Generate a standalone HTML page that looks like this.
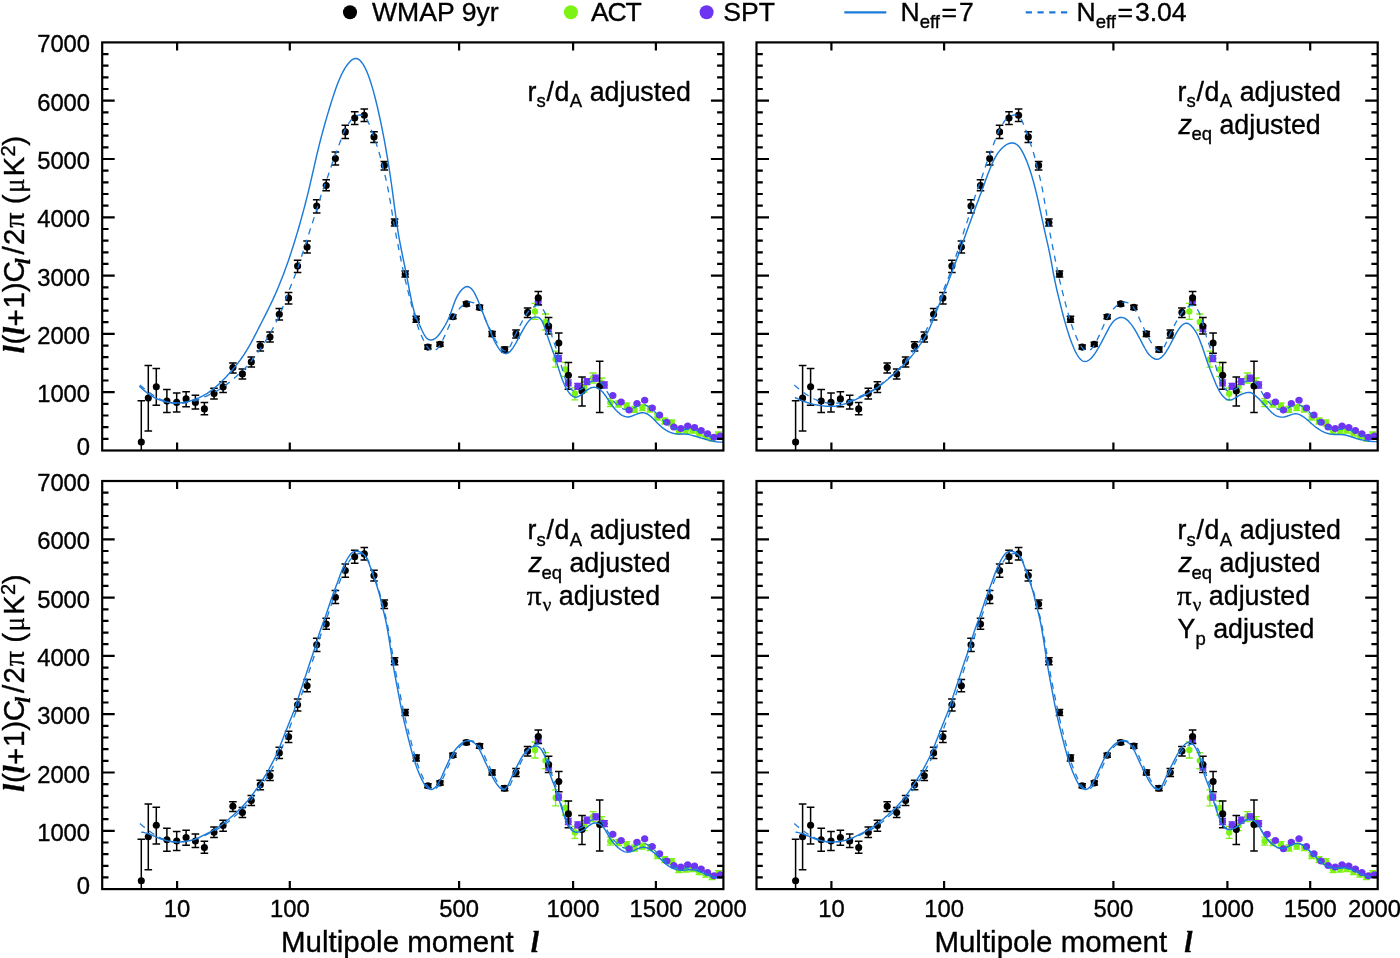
<!DOCTYPE html>
<html><head><meta charset="utf-8"><title>CMB power spectrum</title>
<style>html,body{margin:0;padding:0;background:#fff}svg{display:block}text{font-family:"Liberation Sans",sans-serif;fill:#000;stroke:#000;stroke-width:0.35px}.it{font-family:"Liberation Serif",serif;font-style:italic;font-weight:bold}.sym{font-family:"Liberation Serif",serif}.ob{font-style:italic}</style></head><body>
<svg width="1400" height="958" viewBox="0 0 1400 958">
<rect width="1400" height="958" fill="#fff"/>
<circle cx="350" cy="12.3" r="7" fill="#000"/>
<circle cx="570.9" cy="12.3" r="7" fill="#7df314"/>
<circle cx="706.6" cy="12.3" r="7" fill="#6d35f3"/>
<path d="M844.3,12.3H886.3" stroke="#1c7ad9" stroke-width="2.2"/>
<path d="M1025.7,12.3H1067.7" stroke="#1c7ad9" stroke-width="2.2" stroke-dasharray="6.25 5.5"/>
<g font-size="26.6">
<text x="372.0" y="21">WMAP 9yr</text>
<text x="591" y="21">A<tspan dx="-1.2">C</tspan><tspan dx="-1.3">T</tspan></text>
<text x="723.3" y="21">SPT</text>
<text x="900.5" y="21">N<tspan font-size="18.5" dy="6.8">eff</tspan><tspan dy="-6.8" dx="1.6">=</tspan><tspan dx="1.8">7</tspan></text>
<text x="1076.5" y="21">N<tspan font-size="18.5" dy="6.8">eff</tspan><tspan dy="-6.8" dx="1.6">=</tspan><tspan dx="1.8">3.04</tspan></text>
</g>
<g transform="translate(0.0,0.0)">
<g stroke="#7df314" stroke-width="1.3" fill="#7df314">
<path d="M535.0,303.4V319.4M531.5,303.4h7M531.5,319.4h7" fill="none"/>
<circle cx="535.0" cy="311.4" r="3.2" stroke="none"/>
<path d="M545.5,314.0V330.0M542.0,314.0h7M542.0,330.0h7" fill="none"/>
<circle cx="545.5" cy="322.0" r="3.2" stroke="none"/>
<path d="M555.6,351.2V367.2M552.1,351.2h7M552.1,367.2h7" fill="none"/>
<circle cx="555.6" cy="359.2" r="3.2" stroke="none"/>
<path d="M565.4,362.4V376.4M561.9,362.4h7M561.9,376.4h7" fill="none"/>
<circle cx="565.4" cy="369.4" r="3.2" stroke="none"/>
<path d="M574.9,387.8V399.8M571.4,387.8h7M571.4,399.8h7" fill="none"/>
<circle cx="574.9" cy="393.8" r="3.2" stroke="none"/>
<path d="M584.2,382.0V392.0M580.7,382.0h7M580.7,392.0h7" fill="none"/>
<circle cx="584.2" cy="387.0" r="3.2" stroke="none"/>
<path d="M593.1,373.0V383.0M589.6,373.0h7M589.6,383.0h7" fill="none"/>
<circle cx="593.1" cy="378.0" r="3.2" stroke="none"/>
<path d="M601.8,378.0V388.0M598.3,378.0h7M598.3,388.0h7" fill="none"/>
<circle cx="601.8" cy="383.0" r="3.2" stroke="none"/>
<path d="M610.3,398.6V406.6M606.8,398.6h7M606.8,406.6h7" fill="none"/>
<circle cx="610.3" cy="402.6" r="3.2" stroke="none"/>
<path d="M618.6,401.0V407.0M615.1,401.0h7M615.1,407.0h7" fill="none"/>
<circle cx="618.6" cy="404.0" r="3.2" stroke="none"/>
<path d="M626.7,403.0V409.0M623.2,403.0h7M623.2,409.0h7" fill="none"/>
<circle cx="626.7" cy="406.0" r="3.2" stroke="none"/>
<path d="M634.6,406.4V412.4M631.1,406.4h7M631.1,412.4h7" fill="none"/>
<circle cx="634.6" cy="409.4" r="3.2" stroke="none"/>
<path d="M642.4,404.6V410.6M638.9,404.6h7M638.9,410.6h7" fill="none"/>
<circle cx="642.4" cy="407.6" r="3.2" stroke="none"/>
<path d="M650.0,406.0V412.0M646.5,406.0h7M646.5,412.0h7" fill="none"/>
<circle cx="650.0" cy="409.0" r="3.2" stroke="none"/>
<path d="M657.4,414.0V420.0M653.9,414.0h7M653.9,420.0h7" fill="none"/>
<circle cx="657.4" cy="417.0" r="3.2" stroke="none"/>
<path d="M664.7,418.0V424.0M661.2,418.0h7M661.2,424.0h7" fill="none"/>
<circle cx="664.7" cy="421.0" r="3.2" stroke="none"/>
<path d="M671.8,420.0V426.0M668.3,420.0h7M668.3,426.0h7" fill="none"/>
<circle cx="671.8" cy="423.0" r="3.2" stroke="none"/>
<path d="M678.8,428.0V434.0M675.3,428.0h7M675.3,434.0h7" fill="none"/>
<circle cx="678.8" cy="431.0" r="3.2" stroke="none"/>
<path d="M685.7,427.4V433.4M682.2,427.4h7M682.2,433.4h7" fill="none"/>
<circle cx="685.7" cy="430.4" r="3.2" stroke="none"/>
<path d="M692.5,427.0V433.0M689.0,427.0h7M689.0,433.0h7" fill="none"/>
<circle cx="692.5" cy="430.0" r="3.2" stroke="none"/>
<path d="M699.1,430.0V436.0M695.6,430.0h7M695.6,436.0h7" fill="none"/>
<circle cx="699.1" cy="433.0" r="3.2" stroke="none"/>
<path d="M705.6,432.5V438.5M702.1,432.5h7M702.1,438.5h7" fill="none"/>
<circle cx="705.6" cy="435.5" r="3.2" stroke="none"/>
<path d="M712.1,435.0V441.0M708.6,435.0h7M708.6,441.0h7" fill="none"/>
<circle cx="712.1" cy="438.0" r="3.2" stroke="none"/>
<path d="M718.4,432.0V438.0M714.9,432.0h7M714.9,438.0h7" fill="none"/>
<circle cx="718.4" cy="435.0" r="3.2" stroke="none"/>
</g>
<g stroke="#6d35f3" stroke-width="1.3" fill="#6d35f3">
<path d="M538.2,298.4V304.4M534.7,298.4h7M534.7,304.4h7" fill="none"/>
<circle cx="538.2" cy="301.4" r="3.5" stroke="none"/>
<path d="M548.6,325.6V331.6M545.1,325.6h7M545.1,331.6h7" fill="none"/>
<circle cx="548.6" cy="328.6" r="3.5" stroke="none"/>
<path d="M558.6,355.5V361.5M555.1,355.5h7M555.1,361.5h7" fill="none"/>
<circle cx="558.6" cy="358.5" r="3.5" stroke="none"/>
<path d="M568.3,379.9V385.9M564.8,379.9h7M564.8,385.9h7" fill="none"/>
<circle cx="568.3" cy="382.9" r="3.5" stroke="none"/>
<path d="M577.7,383.3V389.3M574.2,383.3h7M574.2,389.3h7" fill="none"/>
<circle cx="577.7" cy="386.3" r="3.5" stroke="none"/>
<path d="M586.9,378.6V384.6M583.4,378.6h7M583.4,384.6h7" fill="none"/>
<circle cx="586.9" cy="381.6" r="3.5" stroke="none"/>
<path d="M595.8,375.2V381.2M592.3,375.2h7M592.3,381.2h7" fill="none"/>
<circle cx="595.8" cy="378.2" r="3.5" stroke="none"/>
<path d="M604.4,382.0V388.0M600.9,382.0h7M600.9,388.0h7" fill="none"/>
<circle cx="604.4" cy="385.0" r="3.5" stroke="none"/>
<path d="M612.8,394.6V396.6M609.3,394.6h7M609.3,396.6h7" fill="none"/>
<circle cx="612.8" cy="395.6" r="3.5" stroke="none"/>
<path d="M621.1,400.9V402.9M617.6,400.9h7M617.6,402.9h7" fill="none"/>
<circle cx="621.1" cy="401.9" r="3.5" stroke="none"/>
<path d="M629.1,409.1V411.1M625.6,409.1h7M625.6,411.1h7" fill="none"/>
<circle cx="629.1" cy="410.1" r="3.5" stroke="none"/>
<path d="M637.0,402.6V404.6M633.5,402.6h7M633.5,404.6h7" fill="none"/>
<circle cx="637.0" cy="403.6" r="3.5" stroke="none"/>
<path d="M644.7,399.2V401.2M641.2,399.2h7M641.2,401.2h7" fill="none"/>
<circle cx="644.7" cy="400.2" r="3.5" stroke="none"/>
<path d="M652.2,407.0V409.0M648.7,407.0h7M648.7,409.0h7" fill="none"/>
<circle cx="652.2" cy="408.0" r="3.5" stroke="none"/>
<path d="M659.6,414.1V416.1M656.1,414.1h7M656.1,416.1h7" fill="none"/>
<circle cx="659.6" cy="415.1" r="3.5" stroke="none"/>
<path d="M666.8,421.3V423.3M663.3,421.3h7M663.3,423.3h7" fill="none"/>
<circle cx="666.8" cy="422.3" r="3.5" stroke="none"/>
<path d="M673.9,426.0V428.0M670.4,426.0h7M670.4,428.0h7" fill="none"/>
<circle cx="673.9" cy="427.0" r="3.5" stroke="none"/>
<path d="M680.9,427.4V429.4M677.4,427.4h7M677.4,429.4h7" fill="none"/>
<circle cx="680.9" cy="428.4" r="3.5" stroke="none"/>
<path d="M687.7,425.1V427.1M684.2,425.1h7M684.2,427.1h7" fill="none"/>
<circle cx="687.7" cy="426.1" r="3.5" stroke="none"/>
<path d="M694.5,426.4V428.4M691.0,426.4h7M691.0,428.4h7" fill="none"/>
<circle cx="694.5" cy="427.4" r="3.5" stroke="none"/>
<path d="M701.1,429.4V431.4M697.6,429.4h7M697.6,431.4h7" fill="none"/>
<circle cx="701.1" cy="430.4" r="3.5" stroke="none"/>
<path d="M707.6,432.8V434.8M704.1,432.8h7M704.1,434.8h7" fill="none"/>
<circle cx="707.6" cy="433.8" r="3.5" stroke="none"/>
<path d="M714.0,436.2V438.2M710.5,436.2h7M710.5,438.2h7" fill="none"/>
<circle cx="714.0" cy="437.2" r="3.5" stroke="none"/>
<path d="M720.3,435.1V437.1M716.8,435.1h7M716.8,437.1h7" fill="none"/>
<circle cx="720.3" cy="436.1" r="3.5" stroke="none"/>
</g>
<g stroke="#000" stroke-width="1.5" fill="#000">
<path d="M141.3,400.7V450.5M137.5,400.7h7.6" fill="none"/>
<circle cx="141.3" cy="442.1" r="3.55" stroke="none"/>
<path d="M148.3,365.4V431.1M144.5,365.4h7.6M144.5,431.1h7.6" fill="none"/>
<circle cx="148.3" cy="398.1" r="3.55" stroke="none"/>
<path d="M156.3,368.6V405.3M152.5,368.6h7.6M152.5,405.3h7.6" fill="none"/>
<circle cx="156.3" cy="386.7" r="3.55" stroke="none"/>
<path d="M166.9,389.6V412.6M163.1,389.6h7.6M163.1,412.6h7.6" fill="none"/>
<circle cx="166.9" cy="401.1" r="3.55" stroke="none"/>
<path d="M176.7,392.9V411.9M172.9,392.9h7.6M172.9,411.9h7.6" fill="none"/>
<circle cx="176.7" cy="402.4" r="3.55" stroke="none"/>
<path d="M186.1,391.7V406.7M182.3,391.7h7.6M182.3,406.7h7.6" fill="none"/>
<circle cx="186.1" cy="398.9" r="3.55" stroke="none"/>
<path d="M195.4,395.3V409.0M191.6,395.3h7.6M191.6,409.0h7.6" fill="none"/>
<circle cx="195.4" cy="402.4" r="3.55" stroke="none"/>
<path d="M204.4,402.6V414.7M200.6,402.6h7.6M200.6,414.7h7.6" fill="none"/>
<circle cx="204.4" cy="408.9" r="3.55" stroke="none"/>
<path d="M214.0,388.3V398.9M210.2,388.3h7.6M210.2,398.9h7.6" fill="none"/>
<circle cx="214.0" cy="393.6" r="3.55" stroke="none"/>
<path d="M223.1,381.7V392.6M219.3,381.7h7.6M219.3,392.6h7.6" fill="none"/>
<circle cx="223.1" cy="386.9" r="3.55" stroke="none"/>
<path d="M232.9,363.1V372.9M229.1,363.1h7.6M229.1,372.9h7.6" fill="none"/>
<circle cx="232.9" cy="367.6" r="3.55" stroke="none"/>
<path d="M242.4,369.0V378.9M238.6,369.0h7.6M238.6,378.9h7.6" fill="none"/>
<circle cx="242.4" cy="373.9" r="3.55" stroke="none"/>
<path d="M251.3,356.9V366.9M247.5,356.9h7.6M247.5,366.9h7.6" fill="none"/>
<circle cx="251.3" cy="361.9" r="3.55" stroke="none"/>
<path d="M260.3,341.7V351.1M256.5,341.7h7.6M256.5,351.1h7.6" fill="none"/>
<circle cx="260.3" cy="346.1" r="3.55" stroke="none"/>
<path d="M270.0,332.1V341.9M266.2,332.1h7.6M266.2,341.9h7.6" fill="none"/>
<circle cx="270.0" cy="337.1" r="3.55" stroke="none"/>
<path d="M279.3,308.6V320.0M275.5,308.6h7.6M275.5,320.0h7.6" fill="none"/>
<circle cx="279.3" cy="314.3" r="3.55" stroke="none"/>
<path d="M288.6,292.6V304.0M284.8,292.6h7.6M284.8,304.0h7.6" fill="none"/>
<circle cx="288.6" cy="298.1" r="3.55" stroke="none"/>
<path d="M297.6,260.3V272.4M293.8,260.3h7.6M293.8,272.4h7.6" fill="none"/>
<circle cx="297.6" cy="266.1" r="3.55" stroke="none"/>
<path d="M307.1,241.0V253.1M303.3,241.0h7.6M303.3,253.1h7.6" fill="none"/>
<circle cx="307.1" cy="247.1" r="3.55" stroke="none"/>
<path d="M316.7,199.7V212.9M312.9,199.7h7.6M312.9,212.9h7.6" fill="none"/>
<circle cx="316.7" cy="206.1" r="3.55" stroke="none"/>
<path d="M326.2,179.7V190.7M322.4,179.7h7.6M322.4,190.7h7.6" fill="none"/>
<circle cx="326.2" cy="185.5" r="3.55" stroke="none"/>
<path d="M335.4,151.9V165.0M331.6,151.9h7.6M331.6,165.0h7.6" fill="none"/>
<circle cx="335.4" cy="158.6" r="3.55" stroke="none"/>
<path d="M345.3,125.3V138.6M341.5,125.3h7.6M341.5,138.6h7.6" fill="none"/>
<circle cx="345.3" cy="131.9" r="3.55" stroke="none"/>
<path d="M354.7,111.7V124.6M350.9,111.7h7.6M350.9,124.6h7.6" fill="none"/>
<circle cx="354.7" cy="118.1" r="3.55" stroke="none"/>
<path d="M364.3,109.0V121.4M360.5,109.0h7.6M360.5,121.4h7.6" fill="none"/>
<circle cx="364.3" cy="115.3" r="3.55" stroke="none"/>
<path d="M374.0,131.7V142.4M370.2,131.7h7.6M370.2,142.4h7.6" fill="none"/>
<circle cx="374.0" cy="136.9" r="3.55" stroke="none"/>
<path d="M384.3,161.4V170.0M380.5,161.4h7.6M380.5,170.0h7.6" fill="none"/>
<circle cx="384.3" cy="165.4" r="3.55" stroke="none"/>
<path d="M394.6,219.1V226.1M390.8,219.1h7.6M390.8,226.1h7.6" fill="none"/>
<circle cx="394.6" cy="222.6" r="3.55" stroke="none"/>
<path d="M405.2,271.0V277.0M401.4,271.0h7.6M401.4,277.0h7.6" fill="none"/>
<circle cx="405.2" cy="274.0" r="3.55" stroke="none"/>
<path d="M416.2,316.3V322.3M412.4,316.3h7.6M412.4,322.3h7.6" fill="none"/>
<circle cx="416.2" cy="319.3" r="3.55" stroke="none"/>
<path d="M427.9,345.1V349.1M424.1,345.1h7.6M424.1,349.1h7.6" fill="none"/>
<circle cx="427.9" cy="347.1" r="3.55" stroke="none"/>
<path d="M440.0,342.3V346.3M436.2,342.3h7.6M436.2,346.3h7.6" fill="none"/>
<circle cx="440.0" cy="344.3" r="3.55" stroke="none"/>
<path d="M452.9,314.7V318.7M449.1,314.7h7.6M449.1,318.7h7.6" fill="none"/>
<circle cx="452.9" cy="316.7" r="3.55" stroke="none"/>
<path d="M466.4,301.9V305.9M462.6,301.9h7.6M462.6,305.9h7.6" fill="none"/>
<circle cx="466.4" cy="303.9" r="3.55" stroke="none"/>
<path d="M479.6,305.2V309.6M475.8,305.2h7.6M475.8,309.6h7.6" fill="none"/>
<circle cx="479.6" cy="307.4" r="3.55" stroke="none"/>
<path d="M492.1,331.4V336.4M488.3,331.4h7.6M488.3,336.4h7.6" fill="none"/>
<circle cx="492.1" cy="333.9" r="3.55" stroke="none"/>
<path d="M504.7,347.1V352.1M500.9,347.1h7.6M500.9,352.1h7.6" fill="none"/>
<circle cx="504.7" cy="349.6" r="3.55" stroke="none"/>
<path d="M516.0,329.9V337.9M512.2,329.9h7.6M512.2,337.9h7.6" fill="none"/>
<circle cx="516.0" cy="333.9" r="3.55" stroke="none"/>
<path d="M527.6,307.9V317.4M523.8,307.9h7.6M523.8,317.4h7.6" fill="none"/>
<circle cx="527.6" cy="312.4" r="3.55" stroke="none"/>
<path d="M538.3,291.4V305.0M534.5,291.4h7.6M534.5,305.0h7.6" fill="none"/>
<circle cx="538.3" cy="297.9" r="3.55" stroke="none"/>
<path d="M548.6,317.6V334.0M544.8,317.6h7.6M544.8,334.0h7.6" fill="none"/>
<circle cx="548.6" cy="326.0" r="3.55" stroke="none"/>
<path d="M558.8,333.0V353.2M555.0,333.0h7.6M555.0,353.2h7.6" fill="none"/>
<circle cx="558.8" cy="343.0" r="3.55" stroke="none"/>
<path d="M568.4,362.4V389.2M564.6,362.4h7.6M564.6,389.2h7.6" fill="none"/>
<circle cx="568.4" cy="375.3" r="3.55" stroke="none"/>
<path d="M582.0,376.9V406.0M578.2,376.9h7.6M578.2,406.0h7.6" fill="none"/>
<circle cx="582.0" cy="391.0" r="3.55" stroke="none"/>
<path d="M599.7,361.3V412.5M595.9,361.3h7.6M595.9,412.5h7.6" fill="none"/>
<circle cx="599.7" cy="386.0" r="3.55" stroke="none"/>
</g>
<path d="M140.0,385.0 L141.0,385.9 L142.0,386.7 L143.0,387.6 L144.0,388.4 L145.0,389.2 L146.0,390.0 L147.0,390.8 L148.0,391.5 L149.0,392.3 L150.0,393.0 L151.0,393.7 L152.0,394.4 L153.0,395.0 L154.0,395.7 L155.0,396.3 L156.0,396.9 L157.0,397.4 L158.0,398.0 L159.0,398.5 L160.0,399.0 L161.0,399.5 L162.0,399.9 L163.0,400.3 L164.0,400.7 L165.0,401.1 L166.0,401.4 L167.0,401.7 L168.0,402.0 L169.0,402.3 L170.0,402.5 L171.0,402.7 L172.0,402.9 L173.0,403.0 L174.0,403.1 L175.0,403.2 L176.0,403.3 L177.0,403.3 L178.0,403.3 L179.0,403.3 L180.0,403.3 L181.0,403.3 L182.0,403.2 L183.0,403.1 L184.0,403.0 L185.0,402.9 L186.0,402.7 L187.0,402.6 L188.0,402.4 L189.0,402.2 L190.0,402.0 L191.0,401.8 L192.0,401.6 L193.0,401.3 L194.0,401.0 L195.0,400.8 L196.0,400.4 L197.0,400.1 L198.0,399.8 L199.0,399.4 L200.0,399.0 L201.0,398.6 L202.0,398.1 L203.0,397.7 L204.0,397.2 L205.0,396.7 L206.0,396.3 L207.0,395.8 L208.0,395.3 L209.0,394.9 L210.0,394.4 L211.0,394.0 L212.0,393.5 L213.0,393.0 L214.0,392.5 L215.0,392.0 L216.0,391.5 L217.0,390.9 L218.0,390.3 L219.0,389.7 L220.0,389.1 L221.0,388.4 L222.0,387.8 L223.0,387.1 L224.0,386.4 L225.0,385.6 L226.0,384.9 L227.0,384.1 L228.0,383.4 L229.0,382.6 L230.0,381.8 L231.0,381.0 L232.0,380.1 L233.0,379.3 L234.0,378.4 L235.0,377.5 L236.0,376.7 L237.0,375.8 L238.0,374.8 L239.0,373.9 L240.0,373.0 L241.0,372.1 L242.0,371.1 L243.0,370.1 L244.0,369.2 L245.0,368.2 L246.0,367.1 L247.0,366.1 L248.0,365.0 L249.0,363.8 L250.0,362.7 L251.0,361.5 L252.0,360.2 L253.0,359.0 L254.0,357.7 L255.0,356.4 L256.0,355.0 L257.0,353.6 L258.0,352.2 L259.0,350.8 L260.0,349.3 L261.0,347.8 L262.0,346.4 L263.0,344.8 L264.0,343.3 L265.0,341.8 L266.0,340.2 L267.0,338.6 L268.0,337.0 L269.0,335.3 L270.0,333.6 L271.0,331.8 L272.0,330.0 L273.0,328.1 L274.0,326.3 L275.0,324.4 L276.0,322.4 L277.0,320.5 L278.0,318.4 L279.0,316.3 L280.0,314.0 L281.0,311.6 L282.0,309.2 L283.0,306.6 L284.0,304.0 L285.0,301.3 L286.0,298.6 L287.0,296.0 L288.0,293.3 L289.0,290.7 L290.0,288.1 L291.0,285.5 L292.0,283.0 L293.0,280.5 L294.0,278.1 L295.0,275.6 L296.0,273.0 L297.0,270.3 L298.0,267.4 L299.0,264.4 L300.0,261.3 L301.0,258.1 L302.0,255.0 L303.0,251.9 L304.0,248.8 L305.0,245.8 L306.0,242.7 L307.0,239.6 L308.0,236.5 L309.0,233.3 L310.0,230.1 L311.0,227.0 L312.0,224.0 L313.0,221.1 L314.0,218.1 L315.0,215.1 L316.0,211.9 L317.0,208.7 L318.0,205.3 L319.0,202.0 L320.0,198.8 L321.0,195.6 L322.0,192.6 L323.0,189.7 L324.0,187.0 L325.0,184.3 L326.0,181.6 L327.0,178.9 L328.0,176.0 L329.0,173.0 L330.0,170.0 L331.0,167.0 L332.0,164.0 L333.0,161.1 L334.0,158.3 L335.0,155.6 L336.0,152.9 L337.0,150.3 L338.0,147.6 L339.0,145.0 L340.0,142.3 L341.0,139.7 L342.0,137.0 L343.0,134.5 L344.0,132.1 L345.0,129.9 L346.0,127.9 L347.0,126.2 L348.0,124.5 L349.0,122.9 L350.0,121.5 L351.0,120.2 L352.0,119.0 L353.0,118.0 L354.0,117.2 L355.0,116.5 L356.0,116.0 L357.0,115.6 L358.0,115.3 L359.0,115.1 L360.0,115.0 L361.0,115.0 L362.0,115.2 L363.0,115.6 L364.0,116.2 L365.0,117.0 L366.0,118.2 L367.0,119.6 L368.0,121.5 L369.0,123.7 L370.0,126.2 L371.0,128.9 L372.0,131.7 L373.0,134.4 L374.0,137.2 L375.0,140.1 L376.0,142.9 L377.0,145.9 L378.0,148.9 L379.0,152.2 L380.0,155.7 L381.0,159.5 L382.0,163.5 L383.0,167.5 L384.0,171.5 L385.0,175.4 L386.0,179.4 L387.0,183.8 L388.0,188.8 L389.0,194.2 L390.0,200.0 L391.0,206.0 L392.0,212.1 L393.0,218.1 L394.0,224.0 L395.0,229.6 L396.0,234.9 L397.0,240.0 L398.0,245.0 L399.0,250.0 L400.0,255.0 L401.0,260.0 L402.0,264.9 L403.0,269.7 L404.0,274.3 L405.0,278.8 L406.0,283.1 L407.0,287.2 L408.0,291.2 L409.0,295.1 L410.0,299.0 L411.0,302.8 L412.0,306.6 L413.0,310.4 L414.0,314.0 L415.0,317.5 L416.0,320.8 L417.0,324.0 L418.0,326.9 L419.0,329.7 L420.0,332.3 L421.0,334.7 L422.0,337.0 L423.0,339.2 L424.0,341.3 L425.0,343.2 L426.0,345.0 L427.0,346.5 L428.0,347.8 L429.0,348.9 L430.0,349.7 L431.0,350.3 L432.0,350.7 L433.0,350.8 L434.0,350.7 L435.0,350.4 L436.0,349.8 L437.0,349.0 L438.0,347.9 L439.0,346.6 L440.0,345.1 L441.0,343.4 L442.0,341.5 L443.0,339.5 L444.0,337.4 L445.0,335.2 L446.0,333.0 L447.0,330.7 L448.0,328.4 L449.0,326.2 L450.0,324.0 L451.0,321.9 L452.0,319.9 L453.0,318.0 L454.0,316.2 L455.0,314.5 L456.0,313.0 L457.0,311.6 L458.0,310.3 L459.0,309.1 L460.0,308.0 L461.0,307.0 L462.0,306.1 L463.0,305.2 L464.0,304.5 L465.0,303.8 L466.0,303.2 L467.0,302.8 L468.0,302.4 L469.0,302.2 L470.0,302.1 L471.0,302.1 L472.0,302.3 L473.0,302.6 L474.0,303.0 L475.0,303.5 L476.0,304.1 L477.0,304.9 L478.0,305.9 L479.0,307.1 L480.0,308.5 L481.0,310.2 L482.0,312.0 L483.0,314.1 L484.0,316.2 L485.0,318.4 L486.0,320.7 L487.0,322.8 L488.0,325.0 L489.0,327.1 L490.0,329.2 L491.0,331.3 L492.0,333.3 L493.0,335.3 L494.0,337.3 L495.0,339.2 L496.0,341.0 L497.0,342.7 L498.0,344.3 L499.0,345.8 L500.0,347.1 L501.0,348.3 L502.0,349.3 L503.0,350.1 L504.0,350.6 L505.0,350.9 L506.0,350.8 L507.0,350.4 L508.0,349.6 L509.0,348.3 L510.0,346.6 L511.0,344.6 L512.0,342.4 L513.0,340.1 L514.0,337.8 L515.0,335.6 L516.0,333.5 L517.0,331.5 L518.0,329.5 L519.0,327.5 L520.0,325.5 L521.0,323.6 L522.0,321.7 L523.0,319.8 L524.0,318.0 L525.0,316.3 L526.0,314.8 L527.0,313.3 L528.0,312.0 L529.0,310.8 L530.0,309.8 L531.0,308.8 L532.0,308.0 L533.0,307.3 L534.0,306.6 L535.0,306.1 L536.0,305.7 L537.0,305.5 L538.0,305.4 L539.0,305.6 L540.0,306.0 L541.0,306.8 L542.0,307.9 L543.0,309.3 L544.0,311.0 L545.0,312.9 L546.0,315.1 L547.0,317.8 L548.0,321.0 L549.0,324.8 L550.0,328.8 L551.0,332.8 L552.0,336.4 L553.0,339.6 L554.0,342.4 L555.0,345.2 L556.0,348.0 L557.0,351.0 L558.0,354.2 L559.0,357.5 L560.0,361.0 L561.0,364.6 L562.0,368.2 L563.0,371.7 L564.0,375.0 L565.0,378.0 L566.0,380.7 L567.0,383.1 L568.0,385.1 L569.0,386.8 L570.0,388.2 L571.0,389.3 L572.0,390.1 L573.0,390.6 L574.0,390.9 L575.0,391.0 L576.0,390.9 L577.0,390.7 L578.0,390.4 L579.0,390.0 L580.0,389.6 L581.0,389.1 L582.0,388.6 L583.0,388.0 L584.0,387.3 L585.0,386.5 L586.0,385.6 L587.0,384.8 L588.0,383.9 L589.0,383.1 L590.0,382.4 L591.0,381.7 L592.0,381.2 L593.0,380.9 L594.0,380.6 L595.0,380.6 L596.0,380.6 L597.0,380.9 L598.0,381.2 L599.0,381.7 L600.0,382.3 L601.0,383.0 L602.0,384.0 L603.0,385.2 L604.0,386.6 L605.0,388.1 L606.0,389.8 L607.0,391.5 L608.0,393.2 L609.0,394.9 L610.0,396.5 L611.0,397.9 L612.0,399.3 L613.0,400.6 L614.0,401.7 L615.0,402.8 L616.0,403.8 L617.0,404.7 L618.0,405.5 L619.0,406.3 L620.0,407.1 L621.0,407.7 L622.0,408.3 L623.0,408.8 L624.0,409.2 L625.0,409.5 L626.0,409.7 L627.0,409.8 L628.0,409.7 L629.0,409.5 L630.0,409.3 L631.0,409.0 L632.0,408.7 L633.0,408.3 L634.0,407.9 L635.0,407.4 L636.0,406.9 L637.0,406.4 L638.0,406.0 L639.0,405.6 L640.0,405.3 L641.0,405.1 L642.0,404.9 L643.0,404.9 L644.0,405.0 L645.0,405.1 L646.0,405.4 L647.0,405.8 L648.0,406.4 L649.0,407.0 L650.0,407.7 L651.0,408.5 L652.0,409.3 L653.0,410.2 L654.0,411.1 L655.0,412.0 L656.0,413.0 L657.0,414.0 L658.0,415.0 L659.0,416.0 L660.0,417.1 L661.0,418.1 L662.0,419.2 L663.0,420.2 L664.0,421.2 L665.0,422.2 L666.0,423.1 L667.0,423.9 L668.0,424.7 L669.0,425.4 L670.0,426.1 L671.0,426.7 L672.0,427.2 L673.0,427.7 L674.0,428.1 L675.0,428.4 L676.0,428.8 L677.0,429.0 L678.0,429.2 L679.0,429.4 L680.0,429.5 L681.0,429.6 L682.0,429.6 L683.0,429.6 L684.0,429.5 L685.0,429.5 L686.0,429.4 L687.0,429.3 L688.0,429.2 L689.0,429.2 L690.0,429.2 L691.0,429.3 L692.0,429.4 L693.0,429.6 L694.0,429.8 L695.0,430.1 L696.0,430.4 L697.0,430.7 L698.0,431.1 L699.0,431.6 L700.0,432.0 L701.0,432.5 L702.0,433.0 L703.0,433.5 L704.0,434.1 L705.0,434.6 L706.0,435.0 L707.0,435.5 L708.0,436.0 L709.0,436.4 L710.0,436.8 L711.0,437.1 L712.0,437.4 L713.0,437.7 L714.0,438.0 L715.0,438.2 L716.0,438.4 L717.0,438.6 L718.0,438.7 L719.0,438.8 L720.0,438.8 L721.0,438.8 L722.0,438.7 L723.0,438.6 L723.2,438.6" fill="none" stroke="#1c7ad9" stroke-width="1.3" stroke-dasharray="6.25 5.5"/>
<path d="M139.3,386.0 L140.3,387.0 L141.3,387.9 L142.3,388.9 L143.3,389.7 L144.3,390.6 L145.3,391.4 L146.3,392.2 L147.3,393.0 L148.3,393.7 L149.3,394.4 L150.3,395.1 L151.3,395.7 L152.3,396.4 L153.3,396.9 L154.3,397.5 L155.3,398.0 L156.3,398.5 L157.3,399.0 L158.3,399.4 L159.3,399.8 L160.3,400.2 L161.3,400.6 L162.3,400.9 L163.3,401.2 L164.3,401.5 L165.3,401.7 L166.3,401.9 L167.3,402.2 L168.3,402.3 L169.3,402.5 L170.3,402.6 L171.3,402.8 L172.3,402.9 L173.3,402.9 L174.3,403.0 L175.3,403.0 L176.3,403.0 L177.3,403.0 L178.3,403.0 L179.3,403.0 L180.3,402.9 L181.3,402.8 L182.3,402.6 L183.3,402.5 L184.3,402.3 L185.3,402.1 L186.3,401.9 L187.3,401.7 L188.3,401.5 L189.3,401.2 L190.3,400.9 L191.3,400.6 L192.3,400.3 L193.3,400.0 L194.3,399.7 L195.3,399.3 L196.3,398.9 L197.3,398.5 L198.3,398.1 L199.3,397.7 L200.3,397.2 L201.3,396.7 L202.3,396.2 L203.3,395.7 L204.3,395.1 L205.3,394.5 L206.3,393.9 L207.3,393.3 L208.3,392.6 L209.3,391.9 L210.3,391.2 L211.3,390.4 L212.3,389.7 L213.3,388.9 L214.3,388.1 L215.3,387.2 L216.3,386.4 L217.3,385.5 L218.3,384.6 L219.3,383.7 L220.3,382.7 L221.3,381.8 L222.3,380.8 L223.3,379.8 L224.3,378.8 L225.3,377.7 L226.3,376.7 L227.3,375.6 L228.3,374.5 L229.3,373.4 L230.3,372.3 L231.3,371.2 L232.3,370.0 L233.3,368.8 L234.3,367.6 L235.3,366.4 L236.3,365.1 L237.3,363.9 L238.3,362.6 L239.3,361.2 L240.3,359.9 L241.3,358.5 L242.3,357.0 L243.3,355.6 L244.3,354.1 L245.3,352.5 L246.3,350.9 L247.3,349.3 L248.3,347.6 L249.3,345.9 L250.3,344.1 L251.3,342.3 L252.3,340.4 L253.3,338.6 L254.3,336.6 L255.3,334.7 L256.3,332.8 L257.3,330.8 L258.3,328.8 L259.3,326.9 L260.3,324.9 L261.3,323.0 L262.3,321.0 L263.3,319.0 L264.3,317.1 L265.3,315.1 L266.3,313.1 L267.3,311.1 L268.3,309.1 L269.3,307.0 L270.3,305.0 L271.3,302.9 L272.3,300.8 L273.3,298.6 L274.3,296.4 L275.3,294.2 L276.3,291.9 L277.3,289.6 L278.3,287.2 L279.3,284.8 L280.3,282.3 L281.3,279.8 L282.3,277.3 L283.3,274.7 L284.3,272.0 L285.3,269.3 L286.3,266.6 L287.3,263.7 L288.3,260.9 L289.3,257.9 L290.3,255.0 L291.3,251.9 L292.3,248.8 L293.3,245.7 L294.3,242.5 L295.3,239.2 L296.3,235.9 L297.3,232.6 L298.3,229.2 L299.3,225.7 L300.3,222.2 L301.3,218.6 L302.3,215.0 L303.3,211.4 L304.3,207.6 L305.3,203.8 L306.3,199.9 L307.3,195.9 L308.3,191.8 L309.3,187.7 L310.3,183.4 L311.3,179.1 L312.3,174.7 L313.3,170.3 L314.3,165.9 L315.3,161.5 L316.3,157.2 L317.3,152.9 L318.3,148.8 L319.3,144.7 L320.3,140.8 L321.3,136.9 L322.3,133.1 L323.3,129.5 L324.3,125.9 L325.3,122.3 L326.3,118.9 L327.3,115.4 L328.3,112.1 L329.3,108.7 L330.3,105.5 L331.3,102.2 L332.3,99.1 L333.3,96.0 L334.3,93.0 L335.3,90.1 L336.3,87.3 L337.3,84.6 L338.3,82.0 L339.3,79.5 L340.3,77.2 L341.3,75.1 L342.3,73.0 L343.3,71.1 L344.3,69.3 L345.3,67.7 L346.3,66.2 L347.3,64.8 L348.3,63.5 L349.3,62.4 L350.3,61.3 L351.3,60.4 L352.3,59.7 L353.3,59.1 L354.3,58.7 L355.3,58.5 L356.3,58.5 L357.3,58.8 L358.3,59.2 L359.3,59.9 L360.3,60.8 L361.3,61.9 L362.3,63.2 L363.3,64.7 L364.3,66.4 L365.3,68.3 L366.3,70.4 L367.3,72.8 L368.3,75.3 L369.3,78.0 L370.3,81.0 L371.3,84.1 L372.3,87.4 L373.3,90.9 L374.3,94.6 L375.3,98.5 L376.3,102.5 L377.3,106.7 L378.3,111.0 L379.3,115.5 L380.3,120.1 L381.3,124.9 L382.3,129.8 L383.3,134.9 L384.3,140.2 L385.3,145.6 L386.3,151.3 L387.3,157.1 L388.3,163.1 L389.3,169.5 L390.3,176.1 L391.3,183.0 L392.3,190.2 L393.3,197.7 L394.3,205.4 L395.3,212.9 L396.3,220.2 L397.3,227.0 L398.3,233.3 L399.3,239.1 L400.3,244.5 L401.3,249.6 L402.3,254.5 L403.3,259.3 L404.3,264.1 L405.3,269.0 L406.3,274.1 L407.3,279.2 L408.3,284.5 L409.3,289.7 L410.3,294.7 L411.3,299.6 L412.3,304.1 L413.3,308.3 L414.3,312.0 L415.3,315.2 L416.3,317.9 L417.3,320.3 L418.3,322.5 L419.3,324.5 L420.3,326.6 L421.3,328.8 L422.3,331.0 L423.3,333.0 L424.3,334.9 L425.3,336.4 L426.3,337.7 L427.3,338.7 L428.3,339.3 L429.3,339.8 L430.3,340.0 L431.3,340.0 L432.3,339.8 L433.3,339.5 L434.3,339.0 L435.3,338.3 L436.3,337.5 L437.3,336.5 L438.3,335.4 L439.3,334.2 L440.3,332.8 L441.3,331.4 L442.3,329.9 L443.3,328.3 L444.3,326.7 L445.3,325.0 L446.3,323.2 L447.3,321.2 L448.3,319.1 L449.3,316.8 L450.3,314.2 L451.3,311.4 L452.3,308.4 L453.3,305.5 L454.3,302.8 L455.3,300.3 L456.3,298.1 L457.3,296.1 L458.3,294.4 L459.3,292.9 L460.3,291.5 L461.3,290.3 L462.3,289.2 L463.3,288.3 L464.3,287.6 L465.3,287.0 L466.3,286.7 L467.3,286.6 L468.3,286.8 L469.3,287.2 L470.3,287.8 L471.3,288.6 L472.3,289.8 L473.3,291.1 L474.3,292.7 L475.3,294.6 L476.3,296.7 L477.3,298.9 L478.3,301.3 L479.3,303.7 L480.3,306.3 L481.3,308.8 L482.3,311.3 L483.3,313.9 L484.3,316.4 L485.3,318.9 L486.3,321.4 L487.3,323.9 L488.3,326.4 L489.3,328.9 L490.3,331.4 L491.3,333.8 L492.3,336.2 L493.3,338.4 L494.3,340.6 L495.3,342.6 L496.3,344.4 L497.3,346.2 L498.3,347.7 L499.3,349.1 L500.3,350.4 L501.3,351.4 L502.3,352.3 L503.3,352.9 L504.3,353.4 L505.3,353.6 L506.3,353.6 L507.3,353.3 L508.3,352.8 L509.3,352.1 L510.3,351.2 L511.3,350.1 L512.3,348.8 L513.3,347.3 L514.3,345.7 L515.3,344.0 L516.3,342.3 L517.3,340.4 L518.3,338.6 L519.3,336.7 L520.3,334.8 L521.3,332.9 L522.3,331.1 L523.3,329.3 L524.3,327.6 L525.3,325.9 L526.3,324.4 L527.3,322.9 L528.3,321.6 L529.3,320.5 L530.3,319.5 L531.3,318.7 L532.3,318.0 L533.3,317.6 L534.3,317.3 L535.3,317.1 L536.3,317.1 L537.3,317.1 L538.3,317.4 L539.3,317.9 L540.3,318.8 L541.3,320.0 L542.3,321.7 L543.3,323.8 L544.3,326.5 L545.3,329.5 L546.3,332.6 L547.3,335.6 L548.3,338.5 L549.3,341.4 L550.3,344.2 L551.3,346.9 L552.3,349.7 L553.3,352.5 L554.3,355.3 L555.3,358.3 L556.3,361.4 L557.3,364.5 L558.3,367.6 L559.3,370.8 L560.3,373.8 L561.3,376.7 L562.3,379.5 L563.3,382.1 L564.3,384.5 L565.3,386.6 L566.3,388.5 L567.3,390.2 L568.3,391.7 L569.3,393.1 L570.3,394.2 L571.3,395.2 L572.3,396.0 L573.3,396.6 L574.3,397.0 L575.3,397.2 L576.3,397.2 L577.3,396.9 L578.3,396.6 L579.3,396.0 L580.3,395.4 L581.3,394.6 L582.3,393.9 L583.3,393.0 L584.3,392.2 L585.3,391.4 L586.3,390.6 L587.3,389.9 L588.3,389.3 L589.3,388.7 L590.3,388.2 L591.3,387.8 L592.3,387.5 L593.3,387.4 L594.3,387.3 L595.3,387.4 L596.3,387.6 L597.3,387.9 L598.3,388.4 L599.3,389.0 L600.3,389.8 L601.3,390.7 L602.3,391.7 L603.3,392.8 L604.3,394.1 L605.3,395.5 L606.3,396.9 L607.3,398.4 L608.3,399.9 L609.3,401.4 L610.3,402.9 L611.3,404.3 L612.3,405.7 L613.3,407.0 L614.3,408.2 L615.3,409.4 L616.3,410.5 L617.3,411.5 L618.3,412.4 L619.3,413.3 L620.3,414.1 L621.3,414.8 L622.3,415.4 L623.3,415.9 L624.3,416.3 L625.3,416.6 L626.3,416.8 L627.3,416.9 L628.3,416.9 L629.3,416.7 L630.3,416.5 L631.3,416.2 L632.3,415.9 L633.3,415.5 L634.3,415.1 L635.3,414.7 L636.3,414.3 L637.3,413.9 L638.3,413.5 L639.3,413.2 L640.3,413.0 L641.3,412.8 L642.3,412.7 L643.3,412.7 L644.3,412.9 L645.3,413.2 L646.3,413.5 L647.3,414.0 L648.3,414.6 L649.3,415.3 L650.3,416.1 L651.3,416.9 L652.3,417.8 L653.3,418.8 L654.3,419.8 L655.3,420.8 L656.3,421.9 L657.3,422.9 L658.3,423.9 L659.3,424.9 L660.3,425.8 L661.3,426.7 L662.3,427.6 L663.3,428.3 L664.3,429.1 L665.3,429.7 L666.3,430.4 L667.3,430.9 L668.3,431.5 L669.3,431.9 L670.3,432.4 L671.3,432.7 L672.3,433.1 L673.3,433.3 L674.3,433.6 L675.3,433.7 L676.3,433.9 L677.3,434.0 L678.3,434.0 L679.3,434.0 L680.3,434.0 L681.3,434.0 L682.3,434.0 L683.3,434.0 L684.3,434.1 L685.3,434.1 L686.3,434.2 L687.3,434.3 L688.3,434.4 L689.3,434.6 L690.3,434.9 L691.3,435.1 L692.3,435.4 L693.3,435.7 L694.3,436.0 L695.3,436.3 L696.3,436.6 L697.3,436.9 L698.3,437.2 L699.3,437.5 L700.3,437.8 L701.3,438.1 L702.3,438.3 L703.3,438.6 L704.3,438.9 L705.3,439.2 L706.3,439.5 L707.3,439.8 L708.3,440.1 L709.3,440.3 L710.3,440.6 L711.3,440.8 L712.3,441.1 L713.3,441.3 L714.3,441.5 L715.3,441.6 L716.3,441.8 L717.3,441.9 L718.3,442.0 L719.3,442.1 L720.3,442.1 L721.3,442.1 L722.3,442.1 L723.0,442.0" fill="none" stroke="#1c7ad9" stroke-width="1.45"/>
<rect x="102.2" y="42.4" width="621.2" height="408.1" fill="none" stroke="#000" stroke-width="2.2"/>
<path d="M102.2,438.8h6.3M723.4,438.8h-6.3M102.2,427.2h6.3M723.4,427.2h-6.3M102.2,415.5h6.3M723.4,415.5h-6.3M102.2,403.9h6.3M723.4,403.9h-6.3M102.2,392.2h12.5M723.4,392.2h-12.5M102.2,380.5h6.3M723.4,380.5h-6.3M102.2,368.9h6.3M723.4,368.9h-6.3M102.2,357.2h6.3M723.4,357.2h-6.3M102.2,345.6h6.3M723.4,345.6h-6.3M102.2,333.9h12.5M723.4,333.9h-12.5M102.2,322.2h6.3M723.4,322.2h-6.3M102.2,310.6h6.3M723.4,310.6h-6.3M102.2,298.9h6.3M723.4,298.9h-6.3M102.2,287.3h6.3M723.4,287.3h-6.3M102.2,275.6h12.5M723.4,275.6h-12.5M102.2,263.9h6.3M723.4,263.9h-6.3M102.2,252.3h6.3M723.4,252.3h-6.3M102.2,240.6h6.3M723.4,240.6h-6.3M102.2,229.0h6.3M723.4,229.0h-6.3M102.2,217.3h12.5M723.4,217.3h-12.5M102.2,205.6h6.3M723.4,205.6h-6.3M102.2,194.0h6.3M723.4,194.0h-6.3M102.2,182.3h6.3M723.4,182.3h-6.3M102.2,170.7h6.3M723.4,170.7h-6.3M102.2,159.0h12.5M723.4,159.0h-12.5M102.2,147.3h6.3M723.4,147.3h-6.3M102.2,135.7h6.3M723.4,135.7h-6.3M102.2,124.0h6.3M723.4,124.0h-6.3M102.2,112.4h6.3M723.4,112.4h-6.3M102.2,100.7h12.5M723.4,100.7h-12.5M102.2,89.0h6.3M723.4,89.0h-6.3M102.2,77.4h6.3M723.4,77.4h-6.3M102.2,65.7h6.3M723.4,65.7h-6.3M102.2,54.1h6.3M723.4,54.1h-6.3M177.1,42.4v8M177.1,450.5v-8M289.8,42.4v8M289.8,450.5v-8M459.1,42.4v8M459.1,450.5v-8M573.1,42.4v8M573.1,450.5v-8M655.9,42.4v8M655.9,450.5v-8" fill="none" stroke="#000" stroke-width="2.2"/>
</g>
<g transform="translate(654.3,0.0)">
<g stroke="#7df314" stroke-width="1.3" fill="#7df314">
<path d="M535.0,303.4V319.4M531.5,303.4h7M531.5,319.4h7" fill="none"/>
<circle cx="535.0" cy="311.4" r="3.2" stroke="none"/>
<path d="M545.5,314.0V330.0M542.0,314.0h7M542.0,330.0h7" fill="none"/>
<circle cx="545.5" cy="322.0" r="3.2" stroke="none"/>
<path d="M555.6,351.2V367.2M552.1,351.2h7M552.1,367.2h7" fill="none"/>
<circle cx="555.6" cy="359.2" r="3.2" stroke="none"/>
<path d="M565.4,362.4V376.4M561.9,362.4h7M561.9,376.4h7" fill="none"/>
<circle cx="565.4" cy="369.4" r="3.2" stroke="none"/>
<path d="M574.9,387.8V399.8M571.4,387.8h7M571.4,399.8h7" fill="none"/>
<circle cx="574.9" cy="393.8" r="3.2" stroke="none"/>
<path d="M584.2,382.0V392.0M580.7,382.0h7M580.7,392.0h7" fill="none"/>
<circle cx="584.2" cy="387.0" r="3.2" stroke="none"/>
<path d="M593.1,373.0V383.0M589.6,373.0h7M589.6,383.0h7" fill="none"/>
<circle cx="593.1" cy="378.0" r="3.2" stroke="none"/>
<path d="M601.8,378.0V388.0M598.3,378.0h7M598.3,388.0h7" fill="none"/>
<circle cx="601.8" cy="383.0" r="3.2" stroke="none"/>
<path d="M610.3,398.6V406.6M606.8,398.6h7M606.8,406.6h7" fill="none"/>
<circle cx="610.3" cy="402.6" r="3.2" stroke="none"/>
<path d="M618.6,401.0V407.0M615.1,401.0h7M615.1,407.0h7" fill="none"/>
<circle cx="618.6" cy="404.0" r="3.2" stroke="none"/>
<path d="M626.7,403.0V409.0M623.2,403.0h7M623.2,409.0h7" fill="none"/>
<circle cx="626.7" cy="406.0" r="3.2" stroke="none"/>
<path d="M634.6,406.4V412.4M631.1,406.4h7M631.1,412.4h7" fill="none"/>
<circle cx="634.6" cy="409.4" r="3.2" stroke="none"/>
<path d="M642.4,404.6V410.6M638.9,404.6h7M638.9,410.6h7" fill="none"/>
<circle cx="642.4" cy="407.6" r="3.2" stroke="none"/>
<path d="M650.0,406.0V412.0M646.5,406.0h7M646.5,412.0h7" fill="none"/>
<circle cx="650.0" cy="409.0" r="3.2" stroke="none"/>
<path d="M657.4,414.0V420.0M653.9,414.0h7M653.9,420.0h7" fill="none"/>
<circle cx="657.4" cy="417.0" r="3.2" stroke="none"/>
<path d="M664.7,418.0V424.0M661.2,418.0h7M661.2,424.0h7" fill="none"/>
<circle cx="664.7" cy="421.0" r="3.2" stroke="none"/>
<path d="M671.8,420.0V426.0M668.3,420.0h7M668.3,426.0h7" fill="none"/>
<circle cx="671.8" cy="423.0" r="3.2" stroke="none"/>
<path d="M678.8,428.0V434.0M675.3,428.0h7M675.3,434.0h7" fill="none"/>
<circle cx="678.8" cy="431.0" r="3.2" stroke="none"/>
<path d="M685.7,427.4V433.4M682.2,427.4h7M682.2,433.4h7" fill="none"/>
<circle cx="685.7" cy="430.4" r="3.2" stroke="none"/>
<path d="M692.5,427.0V433.0M689.0,427.0h7M689.0,433.0h7" fill="none"/>
<circle cx="692.5" cy="430.0" r="3.2" stroke="none"/>
<path d="M699.1,430.0V436.0M695.6,430.0h7M695.6,436.0h7" fill="none"/>
<circle cx="699.1" cy="433.0" r="3.2" stroke="none"/>
<path d="M705.6,432.5V438.5M702.1,432.5h7M702.1,438.5h7" fill="none"/>
<circle cx="705.6" cy="435.5" r="3.2" stroke="none"/>
<path d="M712.1,435.0V441.0M708.6,435.0h7M708.6,441.0h7" fill="none"/>
<circle cx="712.1" cy="438.0" r="3.2" stroke="none"/>
<path d="M718.4,432.0V438.0M714.9,432.0h7M714.9,438.0h7" fill="none"/>
<circle cx="718.4" cy="435.0" r="3.2" stroke="none"/>
</g>
<g stroke="#6d35f3" stroke-width="1.3" fill="#6d35f3">
<path d="M538.2,298.4V304.4M534.7,298.4h7M534.7,304.4h7" fill="none"/>
<circle cx="538.2" cy="301.4" r="3.5" stroke="none"/>
<path d="M548.6,325.6V331.6M545.1,325.6h7M545.1,331.6h7" fill="none"/>
<circle cx="548.6" cy="328.6" r="3.5" stroke="none"/>
<path d="M558.6,355.5V361.5M555.1,355.5h7M555.1,361.5h7" fill="none"/>
<circle cx="558.6" cy="358.5" r="3.5" stroke="none"/>
<path d="M568.3,379.9V385.9M564.8,379.9h7M564.8,385.9h7" fill="none"/>
<circle cx="568.3" cy="382.9" r="3.5" stroke="none"/>
<path d="M577.7,383.3V389.3M574.2,383.3h7M574.2,389.3h7" fill="none"/>
<circle cx="577.7" cy="386.3" r="3.5" stroke="none"/>
<path d="M586.9,378.6V384.6M583.4,378.6h7M583.4,384.6h7" fill="none"/>
<circle cx="586.9" cy="381.6" r="3.5" stroke="none"/>
<path d="M595.8,375.2V381.2M592.3,375.2h7M592.3,381.2h7" fill="none"/>
<circle cx="595.8" cy="378.2" r="3.5" stroke="none"/>
<path d="M604.4,382.0V388.0M600.9,382.0h7M600.9,388.0h7" fill="none"/>
<circle cx="604.4" cy="385.0" r="3.5" stroke="none"/>
<path d="M612.8,394.6V396.6M609.3,394.6h7M609.3,396.6h7" fill="none"/>
<circle cx="612.8" cy="395.6" r="3.5" stroke="none"/>
<path d="M621.1,400.9V402.9M617.6,400.9h7M617.6,402.9h7" fill="none"/>
<circle cx="621.1" cy="401.9" r="3.5" stroke="none"/>
<path d="M629.1,409.1V411.1M625.6,409.1h7M625.6,411.1h7" fill="none"/>
<circle cx="629.1" cy="410.1" r="3.5" stroke="none"/>
<path d="M637.0,402.6V404.6M633.5,402.6h7M633.5,404.6h7" fill="none"/>
<circle cx="637.0" cy="403.6" r="3.5" stroke="none"/>
<path d="M644.7,399.2V401.2M641.2,399.2h7M641.2,401.2h7" fill="none"/>
<circle cx="644.7" cy="400.2" r="3.5" stroke="none"/>
<path d="M652.2,407.0V409.0M648.7,407.0h7M648.7,409.0h7" fill="none"/>
<circle cx="652.2" cy="408.0" r="3.5" stroke="none"/>
<path d="M659.6,414.1V416.1M656.1,414.1h7M656.1,416.1h7" fill="none"/>
<circle cx="659.6" cy="415.1" r="3.5" stroke="none"/>
<path d="M666.8,421.3V423.3M663.3,421.3h7M663.3,423.3h7" fill="none"/>
<circle cx="666.8" cy="422.3" r="3.5" stroke="none"/>
<path d="M673.9,426.0V428.0M670.4,426.0h7M670.4,428.0h7" fill="none"/>
<circle cx="673.9" cy="427.0" r="3.5" stroke="none"/>
<path d="M680.9,427.4V429.4M677.4,427.4h7M677.4,429.4h7" fill="none"/>
<circle cx="680.9" cy="428.4" r="3.5" stroke="none"/>
<path d="M687.7,425.1V427.1M684.2,425.1h7M684.2,427.1h7" fill="none"/>
<circle cx="687.7" cy="426.1" r="3.5" stroke="none"/>
<path d="M694.5,426.4V428.4M691.0,426.4h7M691.0,428.4h7" fill="none"/>
<circle cx="694.5" cy="427.4" r="3.5" stroke="none"/>
<path d="M701.1,429.4V431.4M697.6,429.4h7M697.6,431.4h7" fill="none"/>
<circle cx="701.1" cy="430.4" r="3.5" stroke="none"/>
<path d="M707.6,432.8V434.8M704.1,432.8h7M704.1,434.8h7" fill="none"/>
<circle cx="707.6" cy="433.8" r="3.5" stroke="none"/>
<path d="M714.0,436.2V438.2M710.5,436.2h7M710.5,438.2h7" fill="none"/>
<circle cx="714.0" cy="437.2" r="3.5" stroke="none"/>
<path d="M720.3,435.1V437.1M716.8,435.1h7M716.8,437.1h7" fill="none"/>
<circle cx="720.3" cy="436.1" r="3.5" stroke="none"/>
</g>
<g stroke="#000" stroke-width="1.5" fill="#000">
<path d="M141.3,400.7V450.5M137.5,400.7h7.6" fill="none"/>
<circle cx="141.3" cy="442.1" r="3.55" stroke="none"/>
<path d="M148.3,365.4V431.1M144.5,365.4h7.6M144.5,431.1h7.6" fill="none"/>
<circle cx="148.3" cy="398.1" r="3.55" stroke="none"/>
<path d="M156.3,368.6V405.3M152.5,368.6h7.6M152.5,405.3h7.6" fill="none"/>
<circle cx="156.3" cy="386.7" r="3.55" stroke="none"/>
<path d="M166.9,389.6V412.6M163.1,389.6h7.6M163.1,412.6h7.6" fill="none"/>
<circle cx="166.9" cy="401.1" r="3.55" stroke="none"/>
<path d="M176.7,392.9V411.9M172.9,392.9h7.6M172.9,411.9h7.6" fill="none"/>
<circle cx="176.7" cy="402.4" r="3.55" stroke="none"/>
<path d="M186.1,391.7V406.7M182.3,391.7h7.6M182.3,406.7h7.6" fill="none"/>
<circle cx="186.1" cy="398.9" r="3.55" stroke="none"/>
<path d="M195.4,395.3V409.0M191.6,395.3h7.6M191.6,409.0h7.6" fill="none"/>
<circle cx="195.4" cy="402.4" r="3.55" stroke="none"/>
<path d="M204.4,402.6V414.7M200.6,402.6h7.6M200.6,414.7h7.6" fill="none"/>
<circle cx="204.4" cy="408.9" r="3.55" stroke="none"/>
<path d="M214.0,388.3V398.9M210.2,388.3h7.6M210.2,398.9h7.6" fill="none"/>
<circle cx="214.0" cy="393.6" r="3.55" stroke="none"/>
<path d="M223.1,381.7V392.6M219.3,381.7h7.6M219.3,392.6h7.6" fill="none"/>
<circle cx="223.1" cy="386.9" r="3.55" stroke="none"/>
<path d="M232.9,363.1V372.9M229.1,363.1h7.6M229.1,372.9h7.6" fill="none"/>
<circle cx="232.9" cy="367.6" r="3.55" stroke="none"/>
<path d="M242.4,369.0V378.9M238.6,369.0h7.6M238.6,378.9h7.6" fill="none"/>
<circle cx="242.4" cy="373.9" r="3.55" stroke="none"/>
<path d="M251.3,356.9V366.9M247.5,356.9h7.6M247.5,366.9h7.6" fill="none"/>
<circle cx="251.3" cy="361.9" r="3.55" stroke="none"/>
<path d="M260.3,341.7V351.1M256.5,341.7h7.6M256.5,351.1h7.6" fill="none"/>
<circle cx="260.3" cy="346.1" r="3.55" stroke="none"/>
<path d="M270.0,332.1V341.9M266.2,332.1h7.6M266.2,341.9h7.6" fill="none"/>
<circle cx="270.0" cy="337.1" r="3.55" stroke="none"/>
<path d="M279.3,308.6V320.0M275.5,308.6h7.6M275.5,320.0h7.6" fill="none"/>
<circle cx="279.3" cy="314.3" r="3.55" stroke="none"/>
<path d="M288.6,292.6V304.0M284.8,292.6h7.6M284.8,304.0h7.6" fill="none"/>
<circle cx="288.6" cy="298.1" r="3.55" stroke="none"/>
<path d="M297.6,260.3V272.4M293.8,260.3h7.6M293.8,272.4h7.6" fill="none"/>
<circle cx="297.6" cy="266.1" r="3.55" stroke="none"/>
<path d="M307.1,241.0V253.1M303.3,241.0h7.6M303.3,253.1h7.6" fill="none"/>
<circle cx="307.1" cy="247.1" r="3.55" stroke="none"/>
<path d="M316.7,199.7V212.9M312.9,199.7h7.6M312.9,212.9h7.6" fill="none"/>
<circle cx="316.7" cy="206.1" r="3.55" stroke="none"/>
<path d="M326.2,179.7V190.7M322.4,179.7h7.6M322.4,190.7h7.6" fill="none"/>
<circle cx="326.2" cy="185.5" r="3.55" stroke="none"/>
<path d="M335.4,151.9V165.0M331.6,151.9h7.6M331.6,165.0h7.6" fill="none"/>
<circle cx="335.4" cy="158.6" r="3.55" stroke="none"/>
<path d="M345.3,125.3V138.6M341.5,125.3h7.6M341.5,138.6h7.6" fill="none"/>
<circle cx="345.3" cy="131.9" r="3.55" stroke="none"/>
<path d="M354.7,111.7V124.6M350.9,111.7h7.6M350.9,124.6h7.6" fill="none"/>
<circle cx="354.7" cy="118.1" r="3.55" stroke="none"/>
<path d="M364.3,109.0V121.4M360.5,109.0h7.6M360.5,121.4h7.6" fill="none"/>
<circle cx="364.3" cy="115.3" r="3.55" stroke="none"/>
<path d="M374.0,131.7V142.4M370.2,131.7h7.6M370.2,142.4h7.6" fill="none"/>
<circle cx="374.0" cy="136.9" r="3.55" stroke="none"/>
<path d="M384.3,161.4V170.0M380.5,161.4h7.6M380.5,170.0h7.6" fill="none"/>
<circle cx="384.3" cy="165.4" r="3.55" stroke="none"/>
<path d="M394.6,219.1V226.1M390.8,219.1h7.6M390.8,226.1h7.6" fill="none"/>
<circle cx="394.6" cy="222.6" r="3.55" stroke="none"/>
<path d="M405.2,271.0V277.0M401.4,271.0h7.6M401.4,277.0h7.6" fill="none"/>
<circle cx="405.2" cy="274.0" r="3.55" stroke="none"/>
<path d="M416.2,316.3V322.3M412.4,316.3h7.6M412.4,322.3h7.6" fill="none"/>
<circle cx="416.2" cy="319.3" r="3.55" stroke="none"/>
<path d="M427.9,345.1V349.1M424.1,345.1h7.6M424.1,349.1h7.6" fill="none"/>
<circle cx="427.9" cy="347.1" r="3.55" stroke="none"/>
<path d="M440.0,342.3V346.3M436.2,342.3h7.6M436.2,346.3h7.6" fill="none"/>
<circle cx="440.0" cy="344.3" r="3.55" stroke="none"/>
<path d="M452.9,314.7V318.7M449.1,314.7h7.6M449.1,318.7h7.6" fill="none"/>
<circle cx="452.9" cy="316.7" r="3.55" stroke="none"/>
<path d="M466.4,301.9V305.9M462.6,301.9h7.6M462.6,305.9h7.6" fill="none"/>
<circle cx="466.4" cy="303.9" r="3.55" stroke="none"/>
<path d="M479.6,305.2V309.6M475.8,305.2h7.6M475.8,309.6h7.6" fill="none"/>
<circle cx="479.6" cy="307.4" r="3.55" stroke="none"/>
<path d="M492.1,331.4V336.4M488.3,331.4h7.6M488.3,336.4h7.6" fill="none"/>
<circle cx="492.1" cy="333.9" r="3.55" stroke="none"/>
<path d="M504.7,347.1V352.1M500.9,347.1h7.6M500.9,352.1h7.6" fill="none"/>
<circle cx="504.7" cy="349.6" r="3.55" stroke="none"/>
<path d="M516.0,329.9V337.9M512.2,329.9h7.6M512.2,337.9h7.6" fill="none"/>
<circle cx="516.0" cy="333.9" r="3.55" stroke="none"/>
<path d="M527.6,307.9V317.4M523.8,307.9h7.6M523.8,317.4h7.6" fill="none"/>
<circle cx="527.6" cy="312.4" r="3.55" stroke="none"/>
<path d="M538.3,291.4V305.0M534.5,291.4h7.6M534.5,305.0h7.6" fill="none"/>
<circle cx="538.3" cy="297.9" r="3.55" stroke="none"/>
<path d="M548.6,317.6V334.0M544.8,317.6h7.6M544.8,334.0h7.6" fill="none"/>
<circle cx="548.6" cy="326.0" r="3.55" stroke="none"/>
<path d="M558.8,333.0V353.2M555.0,333.0h7.6M555.0,353.2h7.6" fill="none"/>
<circle cx="558.8" cy="343.0" r="3.55" stroke="none"/>
<path d="M568.4,362.4V389.2M564.6,362.4h7.6M564.6,389.2h7.6" fill="none"/>
<circle cx="568.4" cy="375.3" r="3.55" stroke="none"/>
<path d="M582.0,376.9V406.0M578.2,376.9h7.6M578.2,406.0h7.6" fill="none"/>
<circle cx="582.0" cy="391.0" r="3.55" stroke="none"/>
<path d="M599.7,361.3V412.5M595.9,361.3h7.6M595.9,412.5h7.6" fill="none"/>
<circle cx="599.7" cy="386.0" r="3.55" stroke="none"/>
</g>
<path d="M140.0,385.0 L141.0,385.9 L142.0,386.7 L143.0,387.6 L144.0,388.4 L145.0,389.2 L146.0,390.0 L147.0,390.8 L148.0,391.5 L149.0,392.3 L150.0,393.0 L151.0,393.7 L152.0,394.4 L153.0,395.0 L154.0,395.7 L155.0,396.3 L156.0,396.9 L157.0,397.4 L158.0,398.0 L159.0,398.5 L160.0,399.0 L161.0,399.5 L162.0,399.9 L163.0,400.3 L164.0,400.7 L165.0,401.1 L166.0,401.4 L167.0,401.7 L168.0,402.0 L169.0,402.3 L170.0,402.5 L171.0,402.7 L172.0,402.9 L173.0,403.0 L174.0,403.1 L175.0,403.2 L176.0,403.3 L177.0,403.3 L178.0,403.3 L179.0,403.3 L180.0,403.3 L181.0,403.3 L182.0,403.2 L183.0,403.1 L184.0,403.0 L185.0,402.9 L186.0,402.7 L187.0,402.6 L188.0,402.4 L189.0,402.2 L190.0,402.0 L191.0,401.8 L192.0,401.6 L193.0,401.3 L194.0,401.0 L195.0,400.8 L196.0,400.4 L197.0,400.1 L198.0,399.8 L199.0,399.4 L200.0,399.0 L201.0,398.6 L202.0,398.1 L203.0,397.7 L204.0,397.2 L205.0,396.7 L206.0,396.3 L207.0,395.8 L208.0,395.3 L209.0,394.9 L210.0,394.4 L211.0,394.0 L212.0,393.5 L213.0,393.0 L214.0,392.5 L215.0,392.0 L216.0,391.5 L217.0,390.9 L218.0,390.3 L219.0,389.7 L220.0,389.1 L221.0,388.4 L222.0,387.8 L223.0,387.1 L224.0,386.4 L225.0,385.6 L226.0,384.9 L227.0,384.1 L228.0,383.4 L229.0,382.6 L230.0,381.8 L231.0,381.0 L232.0,380.1 L233.0,379.3 L234.0,378.4 L235.0,377.5 L236.0,376.7 L237.0,375.8 L238.0,374.8 L239.0,373.9 L240.0,373.0 L241.0,372.1 L242.0,371.1 L243.0,370.1 L244.0,369.2 L245.0,368.2 L246.0,367.1 L247.0,366.1 L248.0,365.0 L249.0,363.8 L250.0,362.7 L251.0,361.5 L252.0,360.2 L253.0,359.0 L254.0,357.7 L255.0,356.4 L256.0,355.0 L257.0,353.6 L258.0,352.2 L259.0,350.8 L260.0,349.3 L261.0,347.8 L262.0,346.4 L263.0,344.8 L264.0,343.3 L265.0,341.8 L266.0,340.2 L267.0,338.6 L268.0,337.0 L269.0,335.3 L270.0,333.6 L271.0,331.8 L272.0,330.0 L273.0,328.1 L274.0,326.3 L275.0,324.4 L276.0,322.4 L277.0,320.5 L278.0,318.4 L279.0,316.3 L280.0,314.0 L281.0,311.6 L282.0,309.2 L283.0,306.6 L284.0,304.0 L285.0,301.3 L286.0,298.6 L287.0,296.0 L288.0,293.3 L289.0,290.7 L290.0,288.1 L291.0,285.5 L292.0,283.0 L293.0,280.5 L294.0,278.1 L295.0,275.6 L296.0,273.0 L297.0,270.3 L298.0,267.4 L299.0,264.4 L300.0,261.3 L301.0,258.1 L302.0,255.0 L303.0,251.9 L304.0,248.8 L305.0,245.8 L306.0,242.7 L307.0,239.6 L308.0,236.5 L309.0,233.3 L310.0,230.1 L311.0,227.0 L312.0,224.0 L313.0,221.1 L314.0,218.1 L315.0,215.1 L316.0,211.9 L317.0,208.7 L318.0,205.3 L319.0,202.0 L320.0,198.8 L321.0,195.6 L322.0,192.6 L323.0,189.7 L324.0,187.0 L325.0,184.3 L326.0,181.6 L327.0,178.9 L328.0,176.0 L329.0,173.0 L330.0,170.0 L331.0,167.0 L332.0,164.0 L333.0,161.1 L334.0,158.3 L335.0,155.6 L336.0,152.9 L337.0,150.3 L338.0,147.6 L339.0,145.0 L340.0,142.3 L341.0,139.7 L342.0,137.0 L343.0,134.5 L344.0,132.1 L345.0,129.9 L346.0,127.9 L347.0,126.2 L348.0,124.5 L349.0,122.9 L350.0,121.5 L351.0,120.2 L352.0,119.0 L353.0,118.0 L354.0,117.2 L355.0,116.5 L356.0,116.0 L357.0,115.6 L358.0,115.3 L359.0,115.1 L360.0,115.0 L361.0,115.0 L362.0,115.2 L363.0,115.6 L364.0,116.2 L365.0,117.0 L366.0,118.2 L367.0,119.6 L368.0,121.5 L369.0,123.7 L370.0,126.2 L371.0,128.9 L372.0,131.7 L373.0,134.4 L374.0,137.2 L375.0,140.1 L376.0,142.9 L377.0,145.9 L378.0,148.9 L379.0,152.2 L380.0,155.7 L381.0,159.5 L382.0,163.5 L383.0,167.5 L384.0,171.5 L385.0,175.4 L386.0,179.4 L387.0,183.8 L388.0,188.8 L389.0,194.2 L390.0,200.0 L391.0,206.0 L392.0,212.1 L393.0,218.1 L394.0,224.0 L395.0,229.6 L396.0,234.9 L397.0,240.0 L398.0,245.0 L399.0,250.0 L400.0,255.0 L401.0,260.0 L402.0,264.9 L403.0,269.7 L404.0,274.3 L405.0,278.8 L406.0,283.1 L407.0,287.2 L408.0,291.2 L409.0,295.1 L410.0,299.0 L411.0,302.8 L412.0,306.6 L413.0,310.4 L414.0,314.0 L415.0,317.5 L416.0,320.8 L417.0,324.0 L418.0,326.9 L419.0,329.7 L420.0,332.3 L421.0,334.7 L422.0,337.0 L423.0,339.2 L424.0,341.3 L425.0,343.2 L426.0,345.0 L427.0,346.5 L428.0,347.8 L429.0,348.9 L430.0,349.7 L431.0,350.3 L432.0,350.7 L433.0,350.8 L434.0,350.7 L435.0,350.4 L436.0,349.8 L437.0,349.0 L438.0,347.9 L439.0,346.6 L440.0,345.1 L441.0,343.4 L442.0,341.5 L443.0,339.5 L444.0,337.4 L445.0,335.2 L446.0,333.0 L447.0,330.7 L448.0,328.4 L449.0,326.2 L450.0,324.0 L451.0,321.9 L452.0,319.9 L453.0,318.0 L454.0,316.2 L455.0,314.5 L456.0,313.0 L457.0,311.6 L458.0,310.3 L459.0,309.1 L460.0,308.0 L461.0,307.0 L462.0,306.1 L463.0,305.2 L464.0,304.5 L465.0,303.8 L466.0,303.2 L467.0,302.8 L468.0,302.4 L469.0,302.2 L470.0,302.1 L471.0,302.1 L472.0,302.3 L473.0,302.6 L474.0,303.0 L475.0,303.5 L476.0,304.1 L477.0,304.9 L478.0,305.9 L479.0,307.1 L480.0,308.5 L481.0,310.2 L482.0,312.0 L483.0,314.1 L484.0,316.2 L485.0,318.4 L486.0,320.7 L487.0,322.8 L488.0,325.0 L489.0,327.1 L490.0,329.2 L491.0,331.3 L492.0,333.3 L493.0,335.3 L494.0,337.3 L495.0,339.2 L496.0,341.0 L497.0,342.7 L498.0,344.3 L499.0,345.8 L500.0,347.1 L501.0,348.3 L502.0,349.3 L503.0,350.1 L504.0,350.6 L505.0,350.9 L506.0,350.8 L507.0,350.4 L508.0,349.6 L509.0,348.3 L510.0,346.6 L511.0,344.6 L512.0,342.4 L513.0,340.1 L514.0,337.8 L515.0,335.6 L516.0,333.5 L517.0,331.5 L518.0,329.5 L519.0,327.5 L520.0,325.5 L521.0,323.6 L522.0,321.7 L523.0,319.8 L524.0,318.0 L525.0,316.3 L526.0,314.8 L527.0,313.3 L528.0,312.0 L529.0,310.8 L530.0,309.8 L531.0,308.8 L532.0,308.0 L533.0,307.3 L534.0,306.6 L535.0,306.1 L536.0,305.7 L537.0,305.5 L538.0,305.4 L539.0,305.6 L540.0,306.0 L541.0,306.8 L542.0,307.9 L543.0,309.3 L544.0,311.0 L545.0,312.9 L546.0,315.1 L547.0,317.8 L548.0,321.0 L549.0,324.8 L550.0,328.8 L551.0,332.8 L552.0,336.4 L553.0,339.6 L554.0,342.4 L555.0,345.2 L556.0,348.0 L557.0,351.0 L558.0,354.2 L559.0,357.5 L560.0,361.0 L561.0,364.6 L562.0,368.2 L563.0,371.7 L564.0,375.0 L565.0,378.0 L566.0,380.7 L567.0,383.1 L568.0,385.1 L569.0,386.8 L570.0,388.2 L571.0,389.3 L572.0,390.1 L573.0,390.6 L574.0,390.9 L575.0,391.0 L576.0,390.9 L577.0,390.7 L578.0,390.4 L579.0,390.0 L580.0,389.6 L581.0,389.1 L582.0,388.6 L583.0,388.0 L584.0,387.3 L585.0,386.5 L586.0,385.6 L587.0,384.8 L588.0,383.9 L589.0,383.1 L590.0,382.4 L591.0,381.7 L592.0,381.2 L593.0,380.9 L594.0,380.6 L595.0,380.6 L596.0,380.6 L597.0,380.9 L598.0,381.2 L599.0,381.7 L600.0,382.3 L601.0,383.0 L602.0,384.0 L603.0,385.2 L604.0,386.6 L605.0,388.1 L606.0,389.8 L607.0,391.5 L608.0,393.2 L609.0,394.9 L610.0,396.5 L611.0,397.9 L612.0,399.3 L613.0,400.6 L614.0,401.7 L615.0,402.8 L616.0,403.8 L617.0,404.7 L618.0,405.5 L619.0,406.3 L620.0,407.1 L621.0,407.7 L622.0,408.3 L623.0,408.8 L624.0,409.2 L625.0,409.5 L626.0,409.7 L627.0,409.8 L628.0,409.7 L629.0,409.5 L630.0,409.3 L631.0,409.0 L632.0,408.7 L633.0,408.3 L634.0,407.9 L635.0,407.4 L636.0,406.9 L637.0,406.4 L638.0,406.0 L639.0,405.6 L640.0,405.3 L641.0,405.1 L642.0,404.9 L643.0,404.9 L644.0,405.0 L645.0,405.1 L646.0,405.4 L647.0,405.8 L648.0,406.4 L649.0,407.0 L650.0,407.7 L651.0,408.5 L652.0,409.3 L653.0,410.2 L654.0,411.1 L655.0,412.0 L656.0,413.0 L657.0,414.0 L658.0,415.0 L659.0,416.0 L660.0,417.1 L661.0,418.1 L662.0,419.2 L663.0,420.2 L664.0,421.2 L665.0,422.2 L666.0,423.1 L667.0,423.9 L668.0,424.7 L669.0,425.4 L670.0,426.1 L671.0,426.7 L672.0,427.2 L673.0,427.7 L674.0,428.1 L675.0,428.4 L676.0,428.8 L677.0,429.0 L678.0,429.2 L679.0,429.4 L680.0,429.5 L681.0,429.6 L682.0,429.6 L683.0,429.6 L684.0,429.5 L685.0,429.5 L686.0,429.4 L687.0,429.3 L688.0,429.2 L689.0,429.2 L690.0,429.2 L691.0,429.3 L692.0,429.4 L693.0,429.6 L694.0,429.8 L695.0,430.1 L696.0,430.4 L697.0,430.7 L698.0,431.1 L699.0,431.6 L700.0,432.0 L701.0,432.5 L702.0,433.0 L703.0,433.5 L704.0,434.1 L705.0,434.6 L706.0,435.0 L707.0,435.5 L708.0,436.0 L709.0,436.4 L710.0,436.8 L711.0,437.1 L712.0,437.4 L713.0,437.7 L714.0,438.0 L715.0,438.2 L716.0,438.4 L717.0,438.6 L718.0,438.7 L719.0,438.8 L720.0,438.8 L721.0,438.8 L722.0,438.7 L723.0,438.6 L723.2,438.6" fill="none" stroke="#1c7ad9" stroke-width="1.3" stroke-dasharray="6.25 5.5"/>
<path d="M140.7,397.5 L141.7,398.0 L142.7,398.4 L143.7,398.9 L144.7,399.3 L145.7,399.8 L146.7,400.2 L147.7,400.6 L148.7,401.0 L149.7,401.4 L150.7,401.8 L151.7,402.1 L152.7,402.5 L153.7,402.8 L154.7,403.1 L155.7,403.4 L156.7,403.7 L157.7,403.9 L158.7,404.2 L159.7,404.4 L160.7,404.6 L161.7,404.9 L162.7,405.0 L163.7,405.2 L164.7,405.4 L165.7,405.5 L166.7,405.6 L167.7,405.8 L168.7,405.9 L169.7,406.0 L170.7,406.1 L171.7,406.2 L172.7,406.2 L173.7,406.3 L174.7,406.3 L175.7,406.3 L176.7,406.3 L177.7,406.3 L178.7,406.3 L179.7,406.2 L180.7,406.1 L181.7,406.0 L182.7,405.8 L183.7,405.6 L184.7,405.4 L185.7,405.2 L186.7,404.9 L187.7,404.7 L188.7,404.4 L189.7,404.1 L190.7,403.8 L191.7,403.4 L192.7,403.1 L193.7,402.7 L194.7,402.3 L195.7,402.0 L196.7,401.5 L197.7,401.1 L198.7,400.7 L199.7,400.3 L200.7,399.8 L201.7,399.4 L202.7,398.9 L203.7,398.4 L204.7,398.0 L205.7,397.5 L206.7,397.0 L207.7,396.5 L208.7,396.0 L209.7,395.5 L210.7,395.0 L211.7,394.5 L212.7,394.0 L213.7,393.4 L214.7,392.9 L215.7,392.3 L216.7,391.7 L217.7,391.1 L218.7,390.5 L219.7,389.9 L220.7,389.2 L221.7,388.5 L222.7,387.8 L223.7,387.1 L224.7,386.4 L225.7,385.6 L226.7,384.9 L227.7,384.1 L228.7,383.3 L229.7,382.5 L230.7,381.7 L231.7,380.8 L232.7,380.0 L233.7,379.2 L234.7,378.3 L235.7,377.4 L236.7,376.5 L237.7,375.7 L238.7,374.8 L239.7,373.9 L240.7,373.0 L241.7,372.0 L242.7,371.1 L243.7,370.2 L244.7,369.3 L245.7,368.3 L246.7,367.4 L247.7,366.4 L248.7,365.4 L249.7,364.4 L250.7,363.4 L251.7,362.4 L252.7,361.4 L253.7,360.3 L254.7,359.2 L255.7,358.0 L256.7,356.8 L257.7,355.6 L258.7,354.4 L259.7,353.1 L260.7,351.7 L261.7,350.4 L262.7,349.0 L263.7,347.6 L264.7,346.1 L265.7,344.7 L266.7,343.3 L267.7,341.8 L268.7,340.3 L269.7,338.8 L270.7,337.1 L271.7,335.4 L272.7,333.5 L273.7,331.5 L274.7,329.4 L275.7,327.1 L276.7,324.8 L277.7,322.4 L278.7,320.0 L279.7,317.5 L280.7,315.1 L281.7,312.5 L282.7,310.0 L283.7,307.5 L284.7,305.0 L285.7,302.5 L286.7,300.0 L287.7,297.5 L288.7,295.0 L289.7,292.5 L290.7,290.0 L291.7,287.5 L292.7,284.9 L293.7,282.4 L294.7,279.8 L295.7,277.2 L296.7,274.6 L297.7,272.0 L298.7,269.3 L299.7,266.7 L300.7,264.0 L301.7,261.3 L302.7,258.6 L303.7,255.9 L304.7,253.1 L305.7,250.4 L306.7,247.6 L307.7,244.8 L308.7,242.0 L309.7,239.2 L310.7,236.4 L311.7,233.6 L312.7,230.8 L313.7,228.0 L314.7,225.3 L315.7,222.5 L316.7,219.7 L317.7,217.0 L318.7,214.3 L319.7,211.6 L320.7,208.9 L321.7,206.2 L322.7,203.6 L323.7,200.9 L324.7,198.2 L325.7,195.5 L326.7,192.9 L327.7,190.1 L328.7,187.4 L329.7,184.7 L330.7,181.9 L331.7,179.2 L332.7,176.5 L333.7,173.8 L334.7,171.2 L335.7,168.7 L336.7,166.3 L337.7,163.9 L338.7,161.7 L339.7,159.7 L340.7,157.8 L341.7,156.0 L342.7,154.4 L343.7,152.9 L344.7,151.6 L345.7,150.4 L346.7,149.3 L347.7,148.3 L348.7,147.3 L349.7,146.5 L350.7,145.7 L351.7,145.0 L352.7,144.4 L353.7,143.9 L354.7,143.5 L355.7,143.2 L356.7,143.0 L357.7,143.0 L358.7,143.0 L359.7,143.2 L360.7,143.5 L361.7,144.0 L362.7,144.7 L363.7,145.6 L364.7,146.6 L365.7,147.9 L366.7,149.4 L367.7,151.1 L368.7,152.9 L369.7,154.9 L370.7,157.1 L371.7,159.4 L372.7,161.8 L373.7,164.5 L374.7,167.2 L375.7,170.2 L376.7,173.3 L377.7,176.6 L378.7,180.1 L379.7,183.7 L380.7,187.6 L381.7,191.6 L382.7,195.9 L383.7,200.2 L384.7,204.7 L385.7,209.3 L386.7,213.9 L387.7,218.6 L388.7,223.2 L389.7,227.9 L390.7,232.4 L391.7,236.8 L392.7,241.2 L393.7,245.6 L394.7,250.1 L395.7,255.0 L396.7,260.2 L397.7,265.7 L398.7,271.2 L399.7,276.5 L400.7,281.4 L401.7,286.1 L402.7,290.5 L403.7,294.7 L404.7,298.8 L405.7,302.9 L406.7,306.9 L407.7,310.9 L408.7,314.8 L409.7,318.5 L410.7,322.1 L411.7,325.6 L412.7,328.9 L413.7,332.1 L414.7,335.2 L415.7,338.2 L416.7,340.9 L417.7,343.6 L418.7,346.1 L419.7,348.5 L420.7,350.7 L421.7,352.7 L422.7,354.5 L423.7,356.2 L424.7,357.6 L425.7,358.8 L426.7,359.8 L427.7,360.5 L428.7,361.1 L429.7,361.4 L430.7,361.5 L431.7,361.4 L432.7,361.1 L433.7,360.7 L434.7,360.0 L435.7,359.2 L436.7,358.3 L437.7,357.2 L438.7,356.0 L439.7,354.7 L440.7,353.3 L441.7,351.8 L442.7,350.2 L443.7,348.5 L444.7,346.8 L445.7,345.0 L446.7,343.2 L447.7,341.3 L448.7,339.4 L449.7,337.5 L450.7,335.5 L451.7,333.6 L452.7,331.7 L453.7,329.8 L454.7,327.9 L455.7,326.2 L456.7,324.6 L457.7,323.2 L458.7,321.9 L459.7,320.8 L460.7,320.0 L461.7,319.3 L462.7,318.7 L463.7,318.2 L464.7,317.8 L465.7,317.5 L466.7,317.4 L467.7,317.4 L468.7,317.6 L469.7,317.9 L470.7,318.4 L471.7,319.1 L472.7,319.8 L473.7,320.7 L474.7,321.7 L475.7,322.9 L476.7,324.1 L477.7,325.4 L478.7,326.9 L479.7,328.4 L480.7,330.0 L481.7,331.7 L482.7,333.4 L483.7,335.3 L484.7,337.1 L485.7,339.0 L486.7,340.9 L487.7,342.9 L488.7,344.8 L489.7,346.7 L490.7,348.5 L491.7,350.2 L492.7,351.8 L493.7,353.2 L494.7,354.4 L495.7,355.5 L496.7,356.5 L497.7,357.3 L498.7,358.0 L499.7,358.5 L500.7,359.0 L501.7,359.2 L502.7,359.3 L503.7,359.2 L504.7,358.9 L505.7,358.4 L506.7,357.7 L507.7,356.8 L508.7,355.8 L509.7,354.6 L510.7,353.3 L511.7,351.8 L512.7,350.2 L513.7,348.6 L514.7,346.8 L515.7,345.0 L516.7,343.1 L517.7,341.2 L518.7,339.3 L519.7,337.4 L520.7,335.6 L521.7,333.7 L522.7,332.0 L523.7,330.4 L524.7,328.9 L525.7,327.5 L526.7,326.3 L527.7,325.3 L528.7,324.5 L529.7,323.9 L530.7,323.4 L531.7,323.2 L532.7,323.2 L533.7,323.5 L534.7,324.0 L535.7,324.7 L536.7,325.6 L537.7,326.7 L538.7,327.8 L539.7,329.1 L540.7,330.6 L541.7,332.2 L542.7,334.0 L543.7,336.0 L544.7,338.3 L545.7,340.7 L546.7,343.4 L547.7,346.1 L548.7,349.1 L549.7,352.1 L550.7,355.1 L551.7,358.1 L552.7,361.1 L553.7,363.9 L554.7,366.6 L555.7,369.2 L556.7,371.7 L557.7,374.2 L558.7,376.8 L559.7,379.3 L560.7,381.8 L561.7,384.2 L562.7,386.4 L563.7,388.5 L564.7,390.4 L565.7,392.1 L566.7,393.7 L567.7,395.0 L568.7,396.2 L569.7,397.3 L570.7,398.2 L571.7,398.9 L572.7,399.5 L573.7,399.8 L574.7,400.0 L575.7,400.0 L576.7,399.9 L577.7,399.6 L578.7,399.2 L579.7,398.7 L580.7,398.1 L581.7,397.5 L582.7,396.8 L583.7,396.2 L584.7,395.6 L585.7,395.0 L586.7,394.5 L587.7,394.1 L588.7,393.7 L589.7,393.4 L590.7,393.1 L591.7,392.8 L592.7,392.6 L593.7,392.4 L594.7,392.4 L595.7,392.5 L596.7,392.8 L597.7,393.2 L598.7,393.8 L599.7,394.5 L600.7,395.3 L601.7,396.2 L602.7,397.1 L603.7,398.0 L604.7,398.9 L605.7,399.9 L606.7,400.9 L607.7,402.0 L608.7,403.0 L609.7,404.2 L610.7,405.3 L611.7,406.4 L612.7,407.5 L613.7,408.6 L614.7,409.7 L615.7,410.8 L616.7,411.7 L617.7,412.7 L618.7,413.5 L619.7,414.3 L620.7,415.0 L621.7,415.6 L622.7,416.1 L623.7,416.4 L624.7,416.7 L625.7,416.9 L626.7,417.1 L627.7,417.1 L628.7,417.1 L629.7,417.0 L630.7,416.8 L631.7,416.5 L632.7,416.2 L633.7,415.8 L634.7,415.5 L635.7,415.1 L636.7,414.8 L637.7,414.4 L638.7,414.1 L639.7,413.9 L640.7,413.8 L641.7,413.8 L642.7,413.9 L643.7,414.1 L644.7,414.4 L645.7,414.8 L646.7,415.3 L647.7,415.9 L648.7,416.6 L649.7,417.2 L650.7,418.0 L651.7,418.8 L652.7,419.6 L653.7,420.4 L654.7,421.3 L655.7,422.2 L656.7,423.1 L657.7,424.0 L658.7,424.8 L659.7,425.7 L660.7,426.5 L661.7,427.3 L662.7,428.0 L663.7,428.7 L664.7,429.4 L665.7,430.0 L666.7,430.6 L667.7,431.1 L668.7,431.6 L669.7,432.1 L670.7,432.5 L671.7,432.9 L672.7,433.2 L673.7,433.5 L674.7,433.8 L675.7,434.0 L676.7,434.1 L677.7,434.2 L678.7,434.3 L679.7,434.4 L680.7,434.4 L681.7,434.5 L682.7,434.5 L683.7,434.5 L684.7,434.5 L685.7,434.5 L686.7,434.6 L687.7,434.6 L688.7,434.7 L689.7,434.8 L690.7,435.0 L691.7,435.2 L692.7,435.5 L693.7,435.7 L694.7,436.0 L695.7,436.4 L696.7,436.7 L697.7,437.0 L698.7,437.4 L699.7,437.7 L700.7,438.0 L701.7,438.4 L702.7,438.7 L703.7,438.9 L704.7,439.2 L705.7,439.5 L706.7,439.7 L707.7,439.9 L708.7,440.1 L709.7,440.3 L710.7,440.5 L711.7,440.7 L712.7,440.9 L713.7,441.0 L714.7,441.2 L715.7,441.3 L716.7,441.4 L717.7,441.5 L718.7,441.5 L719.7,441.6 L720.7,441.6 L721.7,441.6 L722.7,441.5 L723.2,441.5" fill="none" stroke="#1c7ad9" stroke-width="1.45"/>
<rect x="102.2" y="42.4" width="621.2" height="408.1" fill="none" stroke="#000" stroke-width="2.2"/>
<path d="M102.2,438.8h6.3M723.4,438.8h-6.3M102.2,427.2h6.3M723.4,427.2h-6.3M102.2,415.5h6.3M723.4,415.5h-6.3M102.2,403.9h6.3M723.4,403.9h-6.3M102.2,392.2h12.5M723.4,392.2h-12.5M102.2,380.5h6.3M723.4,380.5h-6.3M102.2,368.9h6.3M723.4,368.9h-6.3M102.2,357.2h6.3M723.4,357.2h-6.3M102.2,345.6h6.3M723.4,345.6h-6.3M102.2,333.9h12.5M723.4,333.9h-12.5M102.2,322.2h6.3M723.4,322.2h-6.3M102.2,310.6h6.3M723.4,310.6h-6.3M102.2,298.9h6.3M723.4,298.9h-6.3M102.2,287.3h6.3M723.4,287.3h-6.3M102.2,275.6h12.5M723.4,275.6h-12.5M102.2,263.9h6.3M723.4,263.9h-6.3M102.2,252.3h6.3M723.4,252.3h-6.3M102.2,240.6h6.3M723.4,240.6h-6.3M102.2,229.0h6.3M723.4,229.0h-6.3M102.2,217.3h12.5M723.4,217.3h-12.5M102.2,205.6h6.3M723.4,205.6h-6.3M102.2,194.0h6.3M723.4,194.0h-6.3M102.2,182.3h6.3M723.4,182.3h-6.3M102.2,170.7h6.3M723.4,170.7h-6.3M102.2,159.0h12.5M723.4,159.0h-12.5M102.2,147.3h6.3M723.4,147.3h-6.3M102.2,135.7h6.3M723.4,135.7h-6.3M102.2,124.0h6.3M723.4,124.0h-6.3M102.2,112.4h6.3M723.4,112.4h-6.3M102.2,100.7h12.5M723.4,100.7h-12.5M102.2,89.0h6.3M723.4,89.0h-6.3M102.2,77.4h6.3M723.4,77.4h-6.3M102.2,65.7h6.3M723.4,65.7h-6.3M102.2,54.1h6.3M723.4,54.1h-6.3M177.1,42.4v8M177.1,450.5v-8M289.8,42.4v8M289.8,450.5v-8M459.1,42.4v8M459.1,450.5v-8M573.1,42.4v8M573.1,450.5v-8M655.9,42.4v8M655.9,450.5v-8" fill="none" stroke="#000" stroke-width="2.2"/>
</g>
<g transform="translate(0.0,438.6)">
<g stroke="#7df314" stroke-width="1.3" fill="#7df314">
<path d="M535.0,303.4V319.4M531.5,303.4h7M531.5,319.4h7" fill="none"/>
<circle cx="535.0" cy="311.4" r="3.2" stroke="none"/>
<path d="M545.5,314.0V330.0M542.0,314.0h7M542.0,330.0h7" fill="none"/>
<circle cx="545.5" cy="322.0" r="3.2" stroke="none"/>
<path d="M555.6,351.2V367.2M552.1,351.2h7M552.1,367.2h7" fill="none"/>
<circle cx="555.6" cy="359.2" r="3.2" stroke="none"/>
<path d="M565.4,362.4V376.4M561.9,362.4h7M561.9,376.4h7" fill="none"/>
<circle cx="565.4" cy="369.4" r="3.2" stroke="none"/>
<path d="M574.9,387.8V399.8M571.4,387.8h7M571.4,399.8h7" fill="none"/>
<circle cx="574.9" cy="393.8" r="3.2" stroke="none"/>
<path d="M584.2,382.0V392.0M580.7,382.0h7M580.7,392.0h7" fill="none"/>
<circle cx="584.2" cy="387.0" r="3.2" stroke="none"/>
<path d="M593.1,373.0V383.0M589.6,373.0h7M589.6,383.0h7" fill="none"/>
<circle cx="593.1" cy="378.0" r="3.2" stroke="none"/>
<path d="M601.8,378.0V388.0M598.3,378.0h7M598.3,388.0h7" fill="none"/>
<circle cx="601.8" cy="383.0" r="3.2" stroke="none"/>
<path d="M610.3,398.6V406.6M606.8,398.6h7M606.8,406.6h7" fill="none"/>
<circle cx="610.3" cy="402.6" r="3.2" stroke="none"/>
<path d="M618.6,401.0V407.0M615.1,401.0h7M615.1,407.0h7" fill="none"/>
<circle cx="618.6" cy="404.0" r="3.2" stroke="none"/>
<path d="M626.7,403.0V409.0M623.2,403.0h7M623.2,409.0h7" fill="none"/>
<circle cx="626.7" cy="406.0" r="3.2" stroke="none"/>
<path d="M634.6,406.4V412.4M631.1,406.4h7M631.1,412.4h7" fill="none"/>
<circle cx="634.6" cy="409.4" r="3.2" stroke="none"/>
<path d="M642.4,404.6V410.6M638.9,404.6h7M638.9,410.6h7" fill="none"/>
<circle cx="642.4" cy="407.6" r="3.2" stroke="none"/>
<path d="M650.0,406.0V412.0M646.5,406.0h7M646.5,412.0h7" fill="none"/>
<circle cx="650.0" cy="409.0" r="3.2" stroke="none"/>
<path d="M657.4,414.0V420.0M653.9,414.0h7M653.9,420.0h7" fill="none"/>
<circle cx="657.4" cy="417.0" r="3.2" stroke="none"/>
<path d="M664.7,418.0V424.0M661.2,418.0h7M661.2,424.0h7" fill="none"/>
<circle cx="664.7" cy="421.0" r="3.2" stroke="none"/>
<path d="M671.8,420.0V426.0M668.3,420.0h7M668.3,426.0h7" fill="none"/>
<circle cx="671.8" cy="423.0" r="3.2" stroke="none"/>
<path d="M678.8,428.0V434.0M675.3,428.0h7M675.3,434.0h7" fill="none"/>
<circle cx="678.8" cy="431.0" r="3.2" stroke="none"/>
<path d="M685.7,427.4V433.4M682.2,427.4h7M682.2,433.4h7" fill="none"/>
<circle cx="685.7" cy="430.4" r="3.2" stroke="none"/>
<path d="M692.5,427.0V433.0M689.0,427.0h7M689.0,433.0h7" fill="none"/>
<circle cx="692.5" cy="430.0" r="3.2" stroke="none"/>
<path d="M699.1,430.0V436.0M695.6,430.0h7M695.6,436.0h7" fill="none"/>
<circle cx="699.1" cy="433.0" r="3.2" stroke="none"/>
<path d="M705.6,432.5V438.5M702.1,432.5h7M702.1,438.5h7" fill="none"/>
<circle cx="705.6" cy="435.5" r="3.2" stroke="none"/>
<path d="M712.1,435.0V441.0M708.6,435.0h7M708.6,441.0h7" fill="none"/>
<circle cx="712.1" cy="438.0" r="3.2" stroke="none"/>
<path d="M718.4,432.0V438.0M714.9,432.0h7M714.9,438.0h7" fill="none"/>
<circle cx="718.4" cy="435.0" r="3.2" stroke="none"/>
</g>
<g stroke="#6d35f3" stroke-width="1.3" fill="#6d35f3">
<path d="M538.2,298.4V304.4M534.7,298.4h7M534.7,304.4h7" fill="none"/>
<circle cx="538.2" cy="301.4" r="3.5" stroke="none"/>
<path d="M548.6,325.6V331.6M545.1,325.6h7M545.1,331.6h7" fill="none"/>
<circle cx="548.6" cy="328.6" r="3.5" stroke="none"/>
<path d="M558.6,355.5V361.5M555.1,355.5h7M555.1,361.5h7" fill="none"/>
<circle cx="558.6" cy="358.5" r="3.5" stroke="none"/>
<path d="M568.3,379.9V385.9M564.8,379.9h7M564.8,385.9h7" fill="none"/>
<circle cx="568.3" cy="382.9" r="3.5" stroke="none"/>
<path d="M577.7,383.3V389.3M574.2,383.3h7M574.2,389.3h7" fill="none"/>
<circle cx="577.7" cy="386.3" r="3.5" stroke="none"/>
<path d="M586.9,378.6V384.6M583.4,378.6h7M583.4,384.6h7" fill="none"/>
<circle cx="586.9" cy="381.6" r="3.5" stroke="none"/>
<path d="M595.8,375.2V381.2M592.3,375.2h7M592.3,381.2h7" fill="none"/>
<circle cx="595.8" cy="378.2" r="3.5" stroke="none"/>
<path d="M604.4,382.0V388.0M600.9,382.0h7M600.9,388.0h7" fill="none"/>
<circle cx="604.4" cy="385.0" r="3.5" stroke="none"/>
<path d="M612.8,394.6V396.6M609.3,394.6h7M609.3,396.6h7" fill="none"/>
<circle cx="612.8" cy="395.6" r="3.5" stroke="none"/>
<path d="M621.1,400.9V402.9M617.6,400.9h7M617.6,402.9h7" fill="none"/>
<circle cx="621.1" cy="401.9" r="3.5" stroke="none"/>
<path d="M629.1,409.1V411.1M625.6,409.1h7M625.6,411.1h7" fill="none"/>
<circle cx="629.1" cy="410.1" r="3.5" stroke="none"/>
<path d="M637.0,402.6V404.6M633.5,402.6h7M633.5,404.6h7" fill="none"/>
<circle cx="637.0" cy="403.6" r="3.5" stroke="none"/>
<path d="M644.7,399.2V401.2M641.2,399.2h7M641.2,401.2h7" fill="none"/>
<circle cx="644.7" cy="400.2" r="3.5" stroke="none"/>
<path d="M652.2,407.0V409.0M648.7,407.0h7M648.7,409.0h7" fill="none"/>
<circle cx="652.2" cy="408.0" r="3.5" stroke="none"/>
<path d="M659.6,414.1V416.1M656.1,414.1h7M656.1,416.1h7" fill="none"/>
<circle cx="659.6" cy="415.1" r="3.5" stroke="none"/>
<path d="M666.8,421.3V423.3M663.3,421.3h7M663.3,423.3h7" fill="none"/>
<circle cx="666.8" cy="422.3" r="3.5" stroke="none"/>
<path d="M673.9,426.0V428.0M670.4,426.0h7M670.4,428.0h7" fill="none"/>
<circle cx="673.9" cy="427.0" r="3.5" stroke="none"/>
<path d="M680.9,427.4V429.4M677.4,427.4h7M677.4,429.4h7" fill="none"/>
<circle cx="680.9" cy="428.4" r="3.5" stroke="none"/>
<path d="M687.7,425.1V427.1M684.2,425.1h7M684.2,427.1h7" fill="none"/>
<circle cx="687.7" cy="426.1" r="3.5" stroke="none"/>
<path d="M694.5,426.4V428.4M691.0,426.4h7M691.0,428.4h7" fill="none"/>
<circle cx="694.5" cy="427.4" r="3.5" stroke="none"/>
<path d="M701.1,429.4V431.4M697.6,429.4h7M697.6,431.4h7" fill="none"/>
<circle cx="701.1" cy="430.4" r="3.5" stroke="none"/>
<path d="M707.6,432.8V434.8M704.1,432.8h7M704.1,434.8h7" fill="none"/>
<circle cx="707.6" cy="433.8" r="3.5" stroke="none"/>
<path d="M714.0,436.2V438.2M710.5,436.2h7M710.5,438.2h7" fill="none"/>
<circle cx="714.0" cy="437.2" r="3.5" stroke="none"/>
<path d="M720.3,435.1V437.1M716.8,435.1h7M716.8,437.1h7" fill="none"/>
<circle cx="720.3" cy="436.1" r="3.5" stroke="none"/>
</g>
<g stroke="#000" stroke-width="1.5" fill="#000">
<path d="M141.3,400.7V450.5M137.5,400.7h7.6" fill="none"/>
<circle cx="141.3" cy="442.1" r="3.55" stroke="none"/>
<path d="M148.3,365.4V431.1M144.5,365.4h7.6M144.5,431.1h7.6" fill="none"/>
<circle cx="148.3" cy="398.1" r="3.55" stroke="none"/>
<path d="M156.3,368.6V405.3M152.5,368.6h7.6M152.5,405.3h7.6" fill="none"/>
<circle cx="156.3" cy="386.7" r="3.55" stroke="none"/>
<path d="M166.9,389.6V412.6M163.1,389.6h7.6M163.1,412.6h7.6" fill="none"/>
<circle cx="166.9" cy="401.1" r="3.55" stroke="none"/>
<path d="M176.7,392.9V411.9M172.9,392.9h7.6M172.9,411.9h7.6" fill="none"/>
<circle cx="176.7" cy="402.4" r="3.55" stroke="none"/>
<path d="M186.1,391.7V406.7M182.3,391.7h7.6M182.3,406.7h7.6" fill="none"/>
<circle cx="186.1" cy="398.9" r="3.55" stroke="none"/>
<path d="M195.4,395.3V409.0M191.6,395.3h7.6M191.6,409.0h7.6" fill="none"/>
<circle cx="195.4" cy="402.4" r="3.55" stroke="none"/>
<path d="M204.4,402.6V414.7M200.6,402.6h7.6M200.6,414.7h7.6" fill="none"/>
<circle cx="204.4" cy="408.9" r="3.55" stroke="none"/>
<path d="M214.0,388.3V398.9M210.2,388.3h7.6M210.2,398.9h7.6" fill="none"/>
<circle cx="214.0" cy="393.6" r="3.55" stroke="none"/>
<path d="M223.1,381.7V392.6M219.3,381.7h7.6M219.3,392.6h7.6" fill="none"/>
<circle cx="223.1" cy="386.9" r="3.55" stroke="none"/>
<path d="M232.9,363.1V372.9M229.1,363.1h7.6M229.1,372.9h7.6" fill="none"/>
<circle cx="232.9" cy="367.6" r="3.55" stroke="none"/>
<path d="M242.4,369.0V378.9M238.6,369.0h7.6M238.6,378.9h7.6" fill="none"/>
<circle cx="242.4" cy="373.9" r="3.55" stroke="none"/>
<path d="M251.3,356.9V366.9M247.5,356.9h7.6M247.5,366.9h7.6" fill="none"/>
<circle cx="251.3" cy="361.9" r="3.55" stroke="none"/>
<path d="M260.3,341.7V351.1M256.5,341.7h7.6M256.5,351.1h7.6" fill="none"/>
<circle cx="260.3" cy="346.1" r="3.55" stroke="none"/>
<path d="M270.0,332.1V341.9M266.2,332.1h7.6M266.2,341.9h7.6" fill="none"/>
<circle cx="270.0" cy="337.1" r="3.55" stroke="none"/>
<path d="M279.3,308.6V320.0M275.5,308.6h7.6M275.5,320.0h7.6" fill="none"/>
<circle cx="279.3" cy="314.3" r="3.55" stroke="none"/>
<path d="M288.6,292.6V304.0M284.8,292.6h7.6M284.8,304.0h7.6" fill="none"/>
<circle cx="288.6" cy="298.1" r="3.55" stroke="none"/>
<path d="M297.6,260.3V272.4M293.8,260.3h7.6M293.8,272.4h7.6" fill="none"/>
<circle cx="297.6" cy="266.1" r="3.55" stroke="none"/>
<path d="M307.1,241.0V253.1M303.3,241.0h7.6M303.3,253.1h7.6" fill="none"/>
<circle cx="307.1" cy="247.1" r="3.55" stroke="none"/>
<path d="M316.7,199.7V212.9M312.9,199.7h7.6M312.9,212.9h7.6" fill="none"/>
<circle cx="316.7" cy="206.1" r="3.55" stroke="none"/>
<path d="M326.2,179.7V190.7M322.4,179.7h7.6M322.4,190.7h7.6" fill="none"/>
<circle cx="326.2" cy="185.5" r="3.55" stroke="none"/>
<path d="M335.4,151.9V165.0M331.6,151.9h7.6M331.6,165.0h7.6" fill="none"/>
<circle cx="335.4" cy="158.6" r="3.55" stroke="none"/>
<path d="M345.3,125.3V138.6M341.5,125.3h7.6M341.5,138.6h7.6" fill="none"/>
<circle cx="345.3" cy="131.9" r="3.55" stroke="none"/>
<path d="M354.7,111.7V124.6M350.9,111.7h7.6M350.9,124.6h7.6" fill="none"/>
<circle cx="354.7" cy="118.1" r="3.55" stroke="none"/>
<path d="M364.3,109.0V121.4M360.5,109.0h7.6M360.5,121.4h7.6" fill="none"/>
<circle cx="364.3" cy="115.3" r="3.55" stroke="none"/>
<path d="M374.0,131.7V142.4M370.2,131.7h7.6M370.2,142.4h7.6" fill="none"/>
<circle cx="374.0" cy="136.9" r="3.55" stroke="none"/>
<path d="M384.3,161.4V170.0M380.5,161.4h7.6M380.5,170.0h7.6" fill="none"/>
<circle cx="384.3" cy="165.4" r="3.55" stroke="none"/>
<path d="M394.6,219.1V226.1M390.8,219.1h7.6M390.8,226.1h7.6" fill="none"/>
<circle cx="394.6" cy="222.6" r="3.55" stroke="none"/>
<path d="M405.2,271.0V277.0M401.4,271.0h7.6M401.4,277.0h7.6" fill="none"/>
<circle cx="405.2" cy="274.0" r="3.55" stroke="none"/>
<path d="M416.2,316.3V322.3M412.4,316.3h7.6M412.4,322.3h7.6" fill="none"/>
<circle cx="416.2" cy="319.3" r="3.55" stroke="none"/>
<path d="M427.9,345.1V349.1M424.1,345.1h7.6M424.1,349.1h7.6" fill="none"/>
<circle cx="427.9" cy="347.1" r="3.55" stroke="none"/>
<path d="M440.0,342.3V346.3M436.2,342.3h7.6M436.2,346.3h7.6" fill="none"/>
<circle cx="440.0" cy="344.3" r="3.55" stroke="none"/>
<path d="M452.9,314.7V318.7M449.1,314.7h7.6M449.1,318.7h7.6" fill="none"/>
<circle cx="452.9" cy="316.7" r="3.55" stroke="none"/>
<path d="M466.4,301.9V305.9M462.6,301.9h7.6M462.6,305.9h7.6" fill="none"/>
<circle cx="466.4" cy="303.9" r="3.55" stroke="none"/>
<path d="M479.6,305.2V309.6M475.8,305.2h7.6M475.8,309.6h7.6" fill="none"/>
<circle cx="479.6" cy="307.4" r="3.55" stroke="none"/>
<path d="M492.1,331.4V336.4M488.3,331.4h7.6M488.3,336.4h7.6" fill="none"/>
<circle cx="492.1" cy="333.9" r="3.55" stroke="none"/>
<path d="M504.7,347.1V352.1M500.9,347.1h7.6M500.9,352.1h7.6" fill="none"/>
<circle cx="504.7" cy="349.6" r="3.55" stroke="none"/>
<path d="M516.0,329.9V337.9M512.2,329.9h7.6M512.2,337.9h7.6" fill="none"/>
<circle cx="516.0" cy="333.9" r="3.55" stroke="none"/>
<path d="M527.6,307.9V317.4M523.8,307.9h7.6M523.8,317.4h7.6" fill="none"/>
<circle cx="527.6" cy="312.4" r="3.55" stroke="none"/>
<path d="M538.3,291.4V305.0M534.5,291.4h7.6M534.5,305.0h7.6" fill="none"/>
<circle cx="538.3" cy="297.9" r="3.55" stroke="none"/>
<path d="M548.6,317.6V334.0M544.8,317.6h7.6M544.8,334.0h7.6" fill="none"/>
<circle cx="548.6" cy="326.0" r="3.55" stroke="none"/>
<path d="M558.8,333.0V353.2M555.0,333.0h7.6M555.0,353.2h7.6" fill="none"/>
<circle cx="558.8" cy="343.0" r="3.55" stroke="none"/>
<path d="M568.4,362.4V389.2M564.6,362.4h7.6M564.6,389.2h7.6" fill="none"/>
<circle cx="568.4" cy="375.3" r="3.55" stroke="none"/>
<path d="M582.0,376.9V406.0M578.2,376.9h7.6M578.2,406.0h7.6" fill="none"/>
<circle cx="582.0" cy="391.0" r="3.55" stroke="none"/>
<path d="M599.7,361.3V412.5M595.9,361.3h7.6M595.9,412.5h7.6" fill="none"/>
<circle cx="599.7" cy="386.0" r="3.55" stroke="none"/>
</g>
<path d="M140.0,385.0 L141.0,385.9 L142.0,386.7 L143.0,387.6 L144.0,388.4 L145.0,389.2 L146.0,390.0 L147.0,390.8 L148.0,391.5 L149.0,392.3 L150.0,393.0 L151.0,393.7 L152.0,394.4 L153.0,395.0 L154.0,395.7 L155.0,396.3 L156.0,396.9 L157.0,397.4 L158.0,398.0 L159.0,398.5 L160.0,399.0 L161.0,399.5 L162.0,399.9 L163.0,400.3 L164.0,400.7 L165.0,401.1 L166.0,401.4 L167.0,401.7 L168.0,402.0 L169.0,402.3 L170.0,402.5 L171.0,402.7 L172.0,402.9 L173.0,403.0 L174.0,403.1 L175.0,403.2 L176.0,403.3 L177.0,403.3 L178.0,403.3 L179.0,403.3 L180.0,403.3 L181.0,403.3 L182.0,403.2 L183.0,403.1 L184.0,403.0 L185.0,402.9 L186.0,402.7 L187.0,402.6 L188.0,402.4 L189.0,402.2 L190.0,402.0 L191.0,401.8 L192.0,401.6 L193.0,401.3 L194.0,401.0 L195.0,400.8 L196.0,400.4 L197.0,400.1 L198.0,399.8 L199.0,399.4 L200.0,399.0 L201.0,398.6 L202.0,398.1 L203.0,397.7 L204.0,397.2 L205.0,396.7 L206.0,396.3 L207.0,395.8 L208.0,395.3 L209.0,394.9 L210.0,394.4 L211.0,394.0 L212.0,393.5 L213.0,393.0 L214.0,392.5 L215.0,392.0 L216.0,391.5 L217.0,390.9 L218.0,390.3 L219.0,389.7 L220.0,389.1 L221.0,388.4 L222.0,387.8 L223.0,387.1 L224.0,386.4 L225.0,385.6 L226.0,384.9 L227.0,384.1 L228.0,383.4 L229.0,382.6 L230.0,381.8 L231.0,381.0 L232.0,380.1 L233.0,379.3 L234.0,378.4 L235.0,377.5 L236.0,376.7 L237.0,375.8 L238.0,374.8 L239.0,373.9 L240.0,373.0 L241.0,372.1 L242.0,371.1 L243.0,370.1 L244.0,369.2 L245.0,368.2 L246.0,367.1 L247.0,366.1 L248.0,365.0 L249.0,363.8 L250.0,362.7 L251.0,361.5 L252.0,360.2 L253.0,359.0 L254.0,357.7 L255.0,356.4 L256.0,355.0 L257.0,353.6 L258.0,352.2 L259.0,350.8 L260.0,349.3 L261.0,347.8 L262.0,346.4 L263.0,344.8 L264.0,343.3 L265.0,341.8 L266.0,340.2 L267.0,338.6 L268.0,337.0 L269.0,335.3 L270.0,333.6 L271.0,331.8 L272.0,330.0 L273.0,328.1 L274.0,326.3 L275.0,324.4 L276.0,322.4 L277.0,320.5 L278.0,318.4 L279.0,316.3 L280.0,314.0 L281.0,311.6 L282.0,309.2 L283.0,306.6 L284.0,304.0 L285.0,301.3 L286.0,298.6 L287.0,296.0 L288.0,293.3 L289.0,290.7 L290.0,288.1 L291.0,285.5 L292.0,283.0 L293.0,280.5 L294.0,278.1 L295.0,275.6 L296.0,273.0 L297.0,270.3 L298.0,267.4 L299.0,264.4 L300.0,261.3 L301.0,258.1 L302.0,255.0 L303.0,251.9 L304.0,248.8 L305.0,245.8 L306.0,242.7 L307.0,239.6 L308.0,236.5 L309.0,233.3 L310.0,230.1 L311.0,227.0 L312.0,224.0 L313.0,221.1 L314.0,218.1 L315.0,215.1 L316.0,211.9 L317.0,208.7 L318.0,205.3 L319.0,202.0 L320.0,198.8 L321.0,195.6 L322.0,192.6 L323.0,189.7 L324.0,187.0 L325.0,184.3 L326.0,181.6 L327.0,178.9 L328.0,176.0 L329.0,173.0 L330.0,170.0 L331.0,167.0 L332.0,164.0 L333.0,161.1 L334.0,158.3 L335.0,155.6 L336.0,152.9 L337.0,150.3 L338.0,147.6 L339.0,145.0 L340.0,142.3 L341.0,139.7 L342.0,137.0 L343.0,134.5 L344.0,132.1 L345.0,129.9 L346.0,127.9 L347.0,126.2 L348.0,124.5 L349.0,122.9 L350.0,121.5 L351.0,120.2 L352.0,119.0 L353.0,118.0 L354.0,117.2 L355.0,116.5 L356.0,116.0 L357.0,115.6 L358.0,115.3 L359.0,115.1 L360.0,115.0 L361.0,115.0 L362.0,115.2 L363.0,115.6 L364.0,116.2 L365.0,117.0 L366.0,118.2 L367.0,119.6 L368.0,121.5 L369.0,123.7 L370.0,126.2 L371.0,128.9 L372.0,131.7 L373.0,134.4 L374.0,137.2 L375.0,140.1 L376.0,142.9 L377.0,145.9 L378.0,148.9 L379.0,152.2 L380.0,155.7 L381.0,159.5 L382.0,163.5 L383.0,167.5 L384.0,171.5 L385.0,175.4 L386.0,179.4 L387.0,183.8 L388.0,188.8 L389.0,194.2 L390.0,200.0 L391.0,206.0 L392.0,212.1 L393.0,218.1 L394.0,224.0 L395.0,229.6 L396.0,234.9 L397.0,240.0 L398.0,245.0 L399.0,250.0 L400.0,255.0 L401.0,260.0 L402.0,264.9 L403.0,269.7 L404.0,274.3 L405.0,278.8 L406.0,283.1 L407.0,287.2 L408.0,291.2 L409.0,295.1 L410.0,299.0 L411.0,302.8 L412.0,306.6 L413.0,310.4 L414.0,314.0 L415.0,317.5 L416.0,320.8 L417.0,324.0 L418.0,326.9 L419.0,329.7 L420.0,332.3 L421.0,334.7 L422.0,337.0 L423.0,339.2 L424.0,341.3 L425.0,343.2 L426.0,345.0 L427.0,346.5 L428.0,347.8 L429.0,348.9 L430.0,349.7 L431.0,350.3 L432.0,350.7 L433.0,350.8 L434.0,350.7 L435.0,350.4 L436.0,349.8 L437.0,349.0 L438.0,347.9 L439.0,346.6 L440.0,345.1 L441.0,343.4 L442.0,341.5 L443.0,339.5 L444.0,337.4 L445.0,335.2 L446.0,333.0 L447.0,330.7 L448.0,328.4 L449.0,326.2 L450.0,324.0 L451.0,321.9 L452.0,319.9 L453.0,318.0 L454.0,316.2 L455.0,314.5 L456.0,313.0 L457.0,311.6 L458.0,310.3 L459.0,309.1 L460.0,308.0 L461.0,307.0 L462.0,306.1 L463.0,305.2 L464.0,304.5 L465.0,303.8 L466.0,303.2 L467.0,302.8 L468.0,302.4 L469.0,302.2 L470.0,302.1 L471.0,302.1 L472.0,302.3 L473.0,302.6 L474.0,303.0 L475.0,303.5 L476.0,304.1 L477.0,304.9 L478.0,305.9 L479.0,307.1 L480.0,308.5 L481.0,310.2 L482.0,312.0 L483.0,314.1 L484.0,316.2 L485.0,318.4 L486.0,320.7 L487.0,322.8 L488.0,325.0 L489.0,327.1 L490.0,329.2 L491.0,331.3 L492.0,333.3 L493.0,335.3 L494.0,337.3 L495.0,339.2 L496.0,341.0 L497.0,342.7 L498.0,344.3 L499.0,345.8 L500.0,347.1 L501.0,348.3 L502.0,349.3 L503.0,350.1 L504.0,350.6 L505.0,350.9 L506.0,350.8 L507.0,350.4 L508.0,349.6 L509.0,348.3 L510.0,346.6 L511.0,344.6 L512.0,342.4 L513.0,340.1 L514.0,337.8 L515.0,335.6 L516.0,333.5 L517.0,331.5 L518.0,329.5 L519.0,327.5 L520.0,325.5 L521.0,323.6 L522.0,321.7 L523.0,319.8 L524.0,318.0 L525.0,316.3 L526.0,314.8 L527.0,313.3 L528.0,312.0 L529.0,310.8 L530.0,309.8 L531.0,308.8 L532.0,308.0 L533.0,307.3 L534.0,306.6 L535.0,306.1 L536.0,305.7 L537.0,305.5 L538.0,305.4 L539.0,305.6 L540.0,306.0 L541.0,306.8 L542.0,307.9 L543.0,309.3 L544.0,311.0 L545.0,312.9 L546.0,315.1 L547.0,317.8 L548.0,321.0 L549.0,324.8 L550.0,328.8 L551.0,332.8 L552.0,336.4 L553.0,339.6 L554.0,342.4 L555.0,345.2 L556.0,348.0 L557.0,351.0 L558.0,354.2 L559.0,357.5 L560.0,361.0 L561.0,364.6 L562.0,368.2 L563.0,371.7 L564.0,375.0 L565.0,378.0 L566.0,380.7 L567.0,383.1 L568.0,385.1 L569.0,386.8 L570.0,388.2 L571.0,389.3 L572.0,390.1 L573.0,390.6 L574.0,390.9 L575.0,391.0 L576.0,390.9 L577.0,390.7 L578.0,390.4 L579.0,390.0 L580.0,389.6 L581.0,389.1 L582.0,388.6 L583.0,388.0 L584.0,387.3 L585.0,386.5 L586.0,385.6 L587.0,384.8 L588.0,383.9 L589.0,383.1 L590.0,382.4 L591.0,381.7 L592.0,381.2 L593.0,380.9 L594.0,380.6 L595.0,380.6 L596.0,380.6 L597.0,380.9 L598.0,381.2 L599.0,381.7 L600.0,382.3 L601.0,383.0 L602.0,384.0 L603.0,385.2 L604.0,386.6 L605.0,388.1 L606.0,389.8 L607.0,391.5 L608.0,393.2 L609.0,394.9 L610.0,396.5 L611.0,397.9 L612.0,399.3 L613.0,400.6 L614.0,401.7 L615.0,402.8 L616.0,403.8 L617.0,404.7 L618.0,405.5 L619.0,406.3 L620.0,407.1 L621.0,407.7 L622.0,408.3 L623.0,408.8 L624.0,409.2 L625.0,409.5 L626.0,409.7 L627.0,409.8 L628.0,409.7 L629.0,409.5 L630.0,409.3 L631.0,409.0 L632.0,408.7 L633.0,408.3 L634.0,407.9 L635.0,407.4 L636.0,406.9 L637.0,406.4 L638.0,406.0 L639.0,405.6 L640.0,405.3 L641.0,405.1 L642.0,404.9 L643.0,404.9 L644.0,405.0 L645.0,405.1 L646.0,405.4 L647.0,405.8 L648.0,406.4 L649.0,407.0 L650.0,407.7 L651.0,408.5 L652.0,409.3 L653.0,410.2 L654.0,411.1 L655.0,412.0 L656.0,413.0 L657.0,414.0 L658.0,415.0 L659.0,416.0 L660.0,417.1 L661.0,418.1 L662.0,419.2 L663.0,420.2 L664.0,421.2 L665.0,422.2 L666.0,423.1 L667.0,423.9 L668.0,424.7 L669.0,425.4 L670.0,426.1 L671.0,426.7 L672.0,427.2 L673.0,427.7 L674.0,428.1 L675.0,428.4 L676.0,428.8 L677.0,429.0 L678.0,429.2 L679.0,429.4 L680.0,429.5 L681.0,429.6 L682.0,429.6 L683.0,429.6 L684.0,429.5 L685.0,429.5 L686.0,429.4 L687.0,429.3 L688.0,429.2 L689.0,429.2 L690.0,429.2 L691.0,429.3 L692.0,429.4 L693.0,429.6 L694.0,429.8 L695.0,430.1 L696.0,430.4 L697.0,430.7 L698.0,431.1 L699.0,431.6 L700.0,432.0 L701.0,432.5 L702.0,433.0 L703.0,433.5 L704.0,434.1 L705.0,434.6 L706.0,435.0 L707.0,435.5 L708.0,436.0 L709.0,436.4 L710.0,436.8 L711.0,437.1 L712.0,437.4 L713.0,437.7 L714.0,438.0 L715.0,438.2 L716.0,438.4 L717.0,438.6 L718.0,438.7 L719.0,438.8 L720.0,438.8 L721.0,438.8 L722.0,438.7 L723.0,438.6 L723.2,438.6" fill="none" stroke="#1c7ad9" stroke-width="1.3" stroke-dasharray="6.25 5.5"/>
<path d="M141.3,393.6 L142.3,393.7 L143.3,393.8 L144.3,394.0 L145.3,394.3 L146.3,394.5 L147.3,394.9 L148.3,395.2 L149.3,395.6 L150.3,396.0 L151.3,396.4 L152.3,396.8 L153.3,397.2 L154.3,397.6 L155.3,398.0 L156.3,398.5 L157.3,398.9 L158.3,399.3 L159.3,399.7 L160.3,400.1 L161.3,400.4 L162.3,400.8 L163.3,401.1 L164.3,401.4 L165.3,401.7 L166.3,402.0 L167.3,402.2 L168.3,402.5 L169.3,402.7 L170.3,402.9 L171.3,403.0 L172.3,403.2 L173.3,403.3 L174.3,403.3 L175.3,403.4 L176.3,403.4 L177.3,403.5 L178.3,403.5 L179.3,403.4 L180.3,403.4 L181.3,403.3 L182.3,403.2 L183.3,403.1 L184.3,403.0 L185.3,402.8 L186.3,402.7 L187.3,402.5 L188.3,402.3 L189.3,402.1 L190.3,401.9 L191.3,401.6 L192.3,401.4 L193.3,401.1 L194.3,400.8 L195.3,400.4 L196.3,400.0 L197.3,399.6 L198.3,399.2 L199.3,398.8 L200.3,398.3 L201.3,397.7 L202.3,397.2 L203.3,396.7 L204.3,396.2 L205.3,395.7 L206.3,395.2 L207.3,394.7 L208.3,394.2 L209.3,393.7 L210.3,393.2 L211.3,392.7 L212.3,392.1 L213.3,391.6 L214.3,391.0 L215.3,390.4 L216.3,389.7 L217.3,389.1 L218.3,388.4 L219.3,387.8 L220.3,387.1 L221.3,386.4 L222.3,385.6 L223.3,384.9 L224.3,384.1 L225.3,383.3 L226.3,382.5 L227.3,381.7 L228.3,380.9 L229.3,380.1 L230.3,379.2 L231.3,378.3 L232.3,377.5 L233.3,376.6 L234.3,375.7 L235.3,374.8 L236.3,373.8 L237.3,372.9 L238.3,372.0 L239.3,371.0 L240.3,370.1 L241.3,369.1 L242.3,368.1 L243.3,367.0 L244.3,366.0 L245.3,364.9 L246.3,363.7 L247.3,362.6 L248.3,361.4 L249.3,360.1 L250.3,358.9 L251.3,357.6 L252.3,356.2 L253.3,354.9 L254.3,353.5 L255.3,352.1 L256.3,350.6 L257.3,349.2 L258.3,347.7 L259.3,346.2 L260.3,344.7 L261.3,343.2 L262.3,341.7 L263.3,340.1 L264.3,338.5 L265.3,336.9 L266.3,335.2 L267.3,333.4 L268.3,331.7 L269.3,329.9 L270.3,328.0 L271.3,326.2 L272.3,324.3 L273.3,322.4 L274.3,320.4 L275.3,318.4 L276.3,316.3 L277.3,314.0 L278.3,311.7 L279.3,309.3 L280.3,306.8 L281.3,304.2 L282.3,301.7 L283.3,299.1 L284.3,296.5 L285.3,293.9 L286.3,291.3 L287.3,288.8 L288.3,286.3 L289.3,283.8 L290.3,281.3 L291.3,278.9 L292.3,276.5 L293.3,273.9 L294.3,271.3 L295.3,268.4 L296.3,265.4 L297.3,262.4 L298.3,259.3 L299.3,256.1 L300.3,253.1 L301.3,250.1 L302.3,247.1 L303.3,244.1 L304.3,241.1 L305.3,238.1 L306.3,235.0 L307.3,231.9 L308.3,228.8 L309.3,225.8 L310.3,222.9 L311.3,220.0 L312.3,217.1 L313.3,214.1 L314.3,211.0 L315.3,207.7 L316.3,204.4 L317.3,201.1 L318.3,198.0 L319.3,194.9 L320.3,191.9 L321.3,189.1 L322.3,186.4 L323.3,183.7 L324.3,181.0 L325.3,178.3 L326.3,175.4 L327.3,172.4 L328.3,169.4 L329.3,166.4 L330.3,163.4 L331.3,160.5 L332.3,157.8 L333.3,155.0 L334.3,152.3 L335.3,149.7 L336.3,147.0 L337.3,144.3 L338.3,141.6 L339.3,138.8 L340.3,136.0 L341.3,133.3 L342.3,130.8 L343.3,128.4 L344.3,126.2 L345.3,124.1 L346.3,122.2 L347.3,120.4 L348.3,118.7 L349.3,117.2 L350.3,115.9 L351.3,114.8 L352.3,114.0 L353.3,113.4 L354.3,113.0 L355.3,112.7 L356.3,112.7 L357.3,112.7 L358.3,112.9 L359.3,113.1 L360.3,113.5 L361.3,114.0 L362.3,114.6 L363.3,115.4 L364.3,116.4 L365.3,117.6 L366.3,119.1 L367.3,121.0 L368.3,123.2 L369.3,125.7 L370.3,128.4 L371.3,131.2 L372.3,134.0 L373.3,136.8 L374.3,139.7 L375.3,142.6 L376.3,145.5 L377.3,148.6 L378.3,151.9 L379.3,155.5 L380.3,159.3 L381.3,163.4 L382.3,167.6 L383.3,171.6 L384.3,175.7 L385.3,179.9 L386.3,184.6 L387.3,189.9 L388.3,195.8 L389.3,202.0 L390.3,208.4 L391.3,214.8 L392.3,221.2 L393.3,227.3 L394.3,233.0 L395.3,238.5 L396.3,243.9 L397.3,249.1 L398.3,254.3 L399.3,259.5 L400.3,264.7 L401.3,269.6 L402.3,274.4 L403.3,279.0 L404.3,283.4 L405.3,287.6 L406.3,291.7 L407.3,295.7 L408.3,299.6 L409.3,303.5 L410.3,307.4 L411.3,311.1 L412.3,314.8 L413.3,318.3 L414.3,321.6 L415.3,324.7 L416.3,327.6 L417.3,330.4 L418.3,332.9 L419.3,335.3 L420.3,337.6 L421.3,339.8 L422.3,341.8 L423.3,343.7 L424.3,345.4 L425.3,346.9 L426.3,348.1 L427.3,349.1 L428.3,349.9 L429.3,350.4 L430.3,350.7 L431.3,350.8 L432.3,350.7 L433.3,350.3 L434.3,349.6 L435.3,348.7 L436.3,347.5 L437.3,346.2 L438.3,344.6 L439.3,342.8 L440.3,340.9 L441.3,338.9 L442.3,336.7 L443.3,334.5 L444.3,332.3 L445.3,330.0 L446.3,327.8 L447.3,325.6 L448.3,323.4 L449.3,321.3 L450.3,319.3 L451.3,317.4 L452.3,315.7 L453.3,314.0 L454.3,312.5 L455.3,311.2 L456.3,309.9 L457.3,308.8 L458.3,307.7 L459.3,306.7 L460.3,305.8 L461.3,305.0 L462.3,304.3 L463.3,303.6 L464.3,303.1 L465.3,302.7 L466.3,302.3 L467.3,302.2 L468.3,302.1 L469.3,302.2 L470.3,302.4 L471.3,302.7 L472.3,303.1 L473.3,303.7 L474.3,304.4 L475.3,305.2 L476.3,306.2 L477.3,307.5 L478.3,309.0 L479.3,310.7 L480.3,312.6 L481.3,314.7 L482.3,316.9 L483.3,319.1 L484.3,321.3 L485.3,323.5 L486.3,325.6 L487.3,327.7 L488.3,329.8 L489.3,331.9 L490.3,333.9 L491.3,335.9 L492.3,337.9 L493.3,339.7 L494.3,341.5 L495.3,343.2 L496.3,344.8 L497.3,346.2 L498.3,347.5 L499.3,348.6 L500.3,349.5 L501.3,350.2 L502.3,350.7 L503.3,350.9 L504.3,350.7 L505.3,350.2 L506.3,349.2 L507.3,347.8 L508.3,346.1 L509.3,344.0 L510.3,341.7 L511.3,339.4 L512.3,337.1 L513.3,334.9 L514.3,332.9 L515.3,330.9 L516.3,329.0 L517.3,327.0 L518.3,325.1 L519.3,323.2 L520.3,321.3 L521.3,319.6 L522.3,317.9 L523.3,316.4 L524.3,315.0 L525.3,313.7 L526.3,312.6 L527.3,311.6 L528.3,310.8 L529.3,310.0 L530.3,309.4 L531.3,308.8 L532.3,308.3 L533.3,308.0 L534.3,307.7 L535.3,307.5 L536.3,307.4 L537.3,307.5 L538.3,308.0 L539.3,308.7 L540.3,309.7 L541.3,311.0 L542.3,312.5 L543.3,314.2 L544.3,316.3 L545.3,318.8 L546.3,321.8 L547.3,325.4 L548.3,329.1 L549.3,332.9 L550.3,336.3 L551.3,339.2 L552.3,341.9 L553.3,344.5 L554.3,347.0 L555.3,349.7 L556.3,352.5 L557.3,355.4 L558.3,358.5 L559.3,361.7 L560.3,365.0 L561.3,368.3 L562.3,371.5 L563.3,374.7 L564.3,377.6 L565.3,380.3 L566.3,382.7 L567.3,384.9 L568.3,386.9 L569.3,388.6 L570.3,390.0 L571.3,391.2 L572.3,392.1 L573.3,392.8 L574.3,393.2 L575.3,393.5 L576.3,393.6 L577.3,393.5 L578.3,393.4 L579.3,393.1 L580.3,392.8 L581.3,392.5 L582.3,392.0 L583.3,391.5 L584.3,390.9 L585.3,390.2 L586.3,389.4 L587.3,388.6 L588.3,387.7 L589.3,386.9 L590.3,386.2 L591.3,385.6 L592.3,385.1 L593.3,384.7 L594.3,384.4 L595.3,384.3 L596.3,384.4 L597.3,384.6 L598.3,384.9 L599.3,385.3 L600.3,385.9 L601.3,386.7 L602.3,387.6 L603.3,388.7 L604.3,390.1 L605.3,391.6 L606.3,393.2 L607.3,394.9 L608.3,396.7 L609.3,398.4 L610.3,400.0 L611.3,401.5 L612.3,402.8 L613.3,404.1 L614.3,405.3 L615.3,406.4 L616.3,407.4 L617.3,408.3 L618.3,409.2 L619.3,410.0 L620.3,410.7 L621.3,411.4 L622.3,412.0 L623.3,412.5 L624.3,413.0 L625.3,413.3 L626.3,413.5 L627.3,413.6 L628.3,413.5 L629.3,413.4 L630.3,413.1 L631.3,412.9 L632.3,412.5 L633.3,412.2 L634.3,411.7 L635.3,411.3 L636.3,410.8 L637.3,410.3 L638.3,409.9 L639.3,409.5 L640.3,409.1 L641.3,408.9 L642.3,408.7 L643.3,408.7 L644.3,408.7 L645.3,408.8 L646.3,409.1 L647.3,409.4 L648.3,410.0 L649.3,410.6 L650.3,411.3 L651.3,412.0 L652.3,412.8 L653.3,413.6 L654.3,414.4 L655.3,415.3 L656.3,416.2 L657.3,417.2 L658.3,418.1 L659.3,419.1 L660.3,420.1 L661.3,421.1 L662.3,422.0 L663.3,423.0 L664.3,424.0 L665.3,424.9 L666.3,425.7 L667.3,426.5 L668.3,427.2 L669.3,427.9 L670.3,428.5 L671.3,429.0 L672.3,429.5 L673.3,429.9 L674.3,430.3 L675.3,430.7 L676.3,430.9 L677.3,431.2 L678.3,431.4 L679.3,431.5 L680.3,431.6 L681.3,431.7 L682.3,431.7 L683.3,431.7 L684.3,431.6 L685.3,431.5 L686.3,431.4 L687.3,431.3 L688.3,431.2 L689.3,431.1 L690.3,431.1 L691.3,431.1 L692.3,431.2 L693.3,431.3 L694.3,431.5 L695.3,431.7 L696.3,431.9 L697.3,432.2 L698.3,432.5 L699.3,432.8 L700.3,433.2 L701.3,433.6 L702.3,434.0 L703.3,434.5 L704.3,434.9 L705.3,435.4 L706.3,435.8 L707.3,436.2 L708.3,436.6 L709.3,437.0 L710.3,437.4 L711.3,437.7 L712.3,438.0 L713.3,438.3 L714.3,438.6 L715.3,438.8 L716.3,439.0 L717.3,439.2 L718.3,439.3 L719.3,439.4 L720.3,439.4 L721.3,439.4 L722.3,439.3" fill="none" stroke="#1c7ad9" stroke-width="1.45"/>
<rect x="102.2" y="42.4" width="621.2" height="408.1" fill="none" stroke="#000" stroke-width="2.2"/>
<path d="M102.2,438.8h6.3M723.4,438.8h-6.3M102.2,427.2h6.3M723.4,427.2h-6.3M102.2,415.5h6.3M723.4,415.5h-6.3M102.2,403.9h6.3M723.4,403.9h-6.3M102.2,392.2h12.5M723.4,392.2h-12.5M102.2,380.5h6.3M723.4,380.5h-6.3M102.2,368.9h6.3M723.4,368.9h-6.3M102.2,357.2h6.3M723.4,357.2h-6.3M102.2,345.6h6.3M723.4,345.6h-6.3M102.2,333.9h12.5M723.4,333.9h-12.5M102.2,322.2h6.3M723.4,322.2h-6.3M102.2,310.6h6.3M723.4,310.6h-6.3M102.2,298.9h6.3M723.4,298.9h-6.3M102.2,287.3h6.3M723.4,287.3h-6.3M102.2,275.6h12.5M723.4,275.6h-12.5M102.2,263.9h6.3M723.4,263.9h-6.3M102.2,252.3h6.3M723.4,252.3h-6.3M102.2,240.6h6.3M723.4,240.6h-6.3M102.2,229.0h6.3M723.4,229.0h-6.3M102.2,217.3h12.5M723.4,217.3h-12.5M102.2,205.6h6.3M723.4,205.6h-6.3M102.2,194.0h6.3M723.4,194.0h-6.3M102.2,182.3h6.3M723.4,182.3h-6.3M102.2,170.7h6.3M723.4,170.7h-6.3M102.2,159.0h12.5M723.4,159.0h-12.5M102.2,147.3h6.3M723.4,147.3h-6.3M102.2,135.7h6.3M723.4,135.7h-6.3M102.2,124.0h6.3M723.4,124.0h-6.3M102.2,112.4h6.3M723.4,112.4h-6.3M102.2,100.7h12.5M723.4,100.7h-12.5M102.2,89.0h6.3M723.4,89.0h-6.3M102.2,77.4h6.3M723.4,77.4h-6.3M102.2,65.7h6.3M723.4,65.7h-6.3M102.2,54.1h6.3M723.4,54.1h-6.3M177.1,42.4v8M177.1,450.5v-8M289.8,42.4v8M289.8,450.5v-8M459.1,42.4v8M459.1,450.5v-8M573.1,42.4v8M573.1,450.5v-8M655.9,42.4v8M655.9,450.5v-8" fill="none" stroke="#000" stroke-width="2.2"/>
</g>
<g transform="translate(654.3,438.6)">
<g stroke="#7df314" stroke-width="1.3" fill="#7df314">
<path d="M535.0,303.4V319.4M531.5,303.4h7M531.5,319.4h7" fill="none"/>
<circle cx="535.0" cy="311.4" r="3.2" stroke="none"/>
<path d="M545.5,314.0V330.0M542.0,314.0h7M542.0,330.0h7" fill="none"/>
<circle cx="545.5" cy="322.0" r="3.2" stroke="none"/>
<path d="M555.6,351.2V367.2M552.1,351.2h7M552.1,367.2h7" fill="none"/>
<circle cx="555.6" cy="359.2" r="3.2" stroke="none"/>
<path d="M565.4,362.4V376.4M561.9,362.4h7M561.9,376.4h7" fill="none"/>
<circle cx="565.4" cy="369.4" r="3.2" stroke="none"/>
<path d="M574.9,387.8V399.8M571.4,387.8h7M571.4,399.8h7" fill="none"/>
<circle cx="574.9" cy="393.8" r="3.2" stroke="none"/>
<path d="M584.2,382.0V392.0M580.7,382.0h7M580.7,392.0h7" fill="none"/>
<circle cx="584.2" cy="387.0" r="3.2" stroke="none"/>
<path d="M593.1,373.0V383.0M589.6,373.0h7M589.6,383.0h7" fill="none"/>
<circle cx="593.1" cy="378.0" r="3.2" stroke="none"/>
<path d="M601.8,378.0V388.0M598.3,378.0h7M598.3,388.0h7" fill="none"/>
<circle cx="601.8" cy="383.0" r="3.2" stroke="none"/>
<path d="M610.3,398.6V406.6M606.8,398.6h7M606.8,406.6h7" fill="none"/>
<circle cx="610.3" cy="402.6" r="3.2" stroke="none"/>
<path d="M618.6,401.0V407.0M615.1,401.0h7M615.1,407.0h7" fill="none"/>
<circle cx="618.6" cy="404.0" r="3.2" stroke="none"/>
<path d="M626.7,403.0V409.0M623.2,403.0h7M623.2,409.0h7" fill="none"/>
<circle cx="626.7" cy="406.0" r="3.2" stroke="none"/>
<path d="M634.6,406.4V412.4M631.1,406.4h7M631.1,412.4h7" fill="none"/>
<circle cx="634.6" cy="409.4" r="3.2" stroke="none"/>
<path d="M642.4,404.6V410.6M638.9,404.6h7M638.9,410.6h7" fill="none"/>
<circle cx="642.4" cy="407.6" r="3.2" stroke="none"/>
<path d="M650.0,406.0V412.0M646.5,406.0h7M646.5,412.0h7" fill="none"/>
<circle cx="650.0" cy="409.0" r="3.2" stroke="none"/>
<path d="M657.4,414.0V420.0M653.9,414.0h7M653.9,420.0h7" fill="none"/>
<circle cx="657.4" cy="417.0" r="3.2" stroke="none"/>
<path d="M664.7,418.0V424.0M661.2,418.0h7M661.2,424.0h7" fill="none"/>
<circle cx="664.7" cy="421.0" r="3.2" stroke="none"/>
<path d="M671.8,420.0V426.0M668.3,420.0h7M668.3,426.0h7" fill="none"/>
<circle cx="671.8" cy="423.0" r="3.2" stroke="none"/>
<path d="M678.8,428.0V434.0M675.3,428.0h7M675.3,434.0h7" fill="none"/>
<circle cx="678.8" cy="431.0" r="3.2" stroke="none"/>
<path d="M685.7,427.4V433.4M682.2,427.4h7M682.2,433.4h7" fill="none"/>
<circle cx="685.7" cy="430.4" r="3.2" stroke="none"/>
<path d="M692.5,427.0V433.0M689.0,427.0h7M689.0,433.0h7" fill="none"/>
<circle cx="692.5" cy="430.0" r="3.2" stroke="none"/>
<path d="M699.1,430.0V436.0M695.6,430.0h7M695.6,436.0h7" fill="none"/>
<circle cx="699.1" cy="433.0" r="3.2" stroke="none"/>
<path d="M705.6,432.5V438.5M702.1,432.5h7M702.1,438.5h7" fill="none"/>
<circle cx="705.6" cy="435.5" r="3.2" stroke="none"/>
<path d="M712.1,435.0V441.0M708.6,435.0h7M708.6,441.0h7" fill="none"/>
<circle cx="712.1" cy="438.0" r="3.2" stroke="none"/>
<path d="M718.4,432.0V438.0M714.9,432.0h7M714.9,438.0h7" fill="none"/>
<circle cx="718.4" cy="435.0" r="3.2" stroke="none"/>
</g>
<g stroke="#6d35f3" stroke-width="1.3" fill="#6d35f3">
<path d="M538.2,298.4V304.4M534.7,298.4h7M534.7,304.4h7" fill="none"/>
<circle cx="538.2" cy="301.4" r="3.5" stroke="none"/>
<path d="M548.6,325.6V331.6M545.1,325.6h7M545.1,331.6h7" fill="none"/>
<circle cx="548.6" cy="328.6" r="3.5" stroke="none"/>
<path d="M558.6,355.5V361.5M555.1,355.5h7M555.1,361.5h7" fill="none"/>
<circle cx="558.6" cy="358.5" r="3.5" stroke="none"/>
<path d="M568.3,379.9V385.9M564.8,379.9h7M564.8,385.9h7" fill="none"/>
<circle cx="568.3" cy="382.9" r="3.5" stroke="none"/>
<path d="M577.7,383.3V389.3M574.2,383.3h7M574.2,389.3h7" fill="none"/>
<circle cx="577.7" cy="386.3" r="3.5" stroke="none"/>
<path d="M586.9,378.6V384.6M583.4,378.6h7M583.4,384.6h7" fill="none"/>
<circle cx="586.9" cy="381.6" r="3.5" stroke="none"/>
<path d="M595.8,375.2V381.2M592.3,375.2h7M592.3,381.2h7" fill="none"/>
<circle cx="595.8" cy="378.2" r="3.5" stroke="none"/>
<path d="M604.4,382.0V388.0M600.9,382.0h7M600.9,388.0h7" fill="none"/>
<circle cx="604.4" cy="385.0" r="3.5" stroke="none"/>
<path d="M612.8,394.6V396.6M609.3,394.6h7M609.3,396.6h7" fill="none"/>
<circle cx="612.8" cy="395.6" r="3.5" stroke="none"/>
<path d="M621.1,400.9V402.9M617.6,400.9h7M617.6,402.9h7" fill="none"/>
<circle cx="621.1" cy="401.9" r="3.5" stroke="none"/>
<path d="M629.1,409.1V411.1M625.6,409.1h7M625.6,411.1h7" fill="none"/>
<circle cx="629.1" cy="410.1" r="3.5" stroke="none"/>
<path d="M637.0,402.6V404.6M633.5,402.6h7M633.5,404.6h7" fill="none"/>
<circle cx="637.0" cy="403.6" r="3.5" stroke="none"/>
<path d="M644.7,399.2V401.2M641.2,399.2h7M641.2,401.2h7" fill="none"/>
<circle cx="644.7" cy="400.2" r="3.5" stroke="none"/>
<path d="M652.2,407.0V409.0M648.7,407.0h7M648.7,409.0h7" fill="none"/>
<circle cx="652.2" cy="408.0" r="3.5" stroke="none"/>
<path d="M659.6,414.1V416.1M656.1,414.1h7M656.1,416.1h7" fill="none"/>
<circle cx="659.6" cy="415.1" r="3.5" stroke="none"/>
<path d="M666.8,421.3V423.3M663.3,421.3h7M663.3,423.3h7" fill="none"/>
<circle cx="666.8" cy="422.3" r="3.5" stroke="none"/>
<path d="M673.9,426.0V428.0M670.4,426.0h7M670.4,428.0h7" fill="none"/>
<circle cx="673.9" cy="427.0" r="3.5" stroke="none"/>
<path d="M680.9,427.4V429.4M677.4,427.4h7M677.4,429.4h7" fill="none"/>
<circle cx="680.9" cy="428.4" r="3.5" stroke="none"/>
<path d="M687.7,425.1V427.1M684.2,425.1h7M684.2,427.1h7" fill="none"/>
<circle cx="687.7" cy="426.1" r="3.5" stroke="none"/>
<path d="M694.5,426.4V428.4M691.0,426.4h7M691.0,428.4h7" fill="none"/>
<circle cx="694.5" cy="427.4" r="3.5" stroke="none"/>
<path d="M701.1,429.4V431.4M697.6,429.4h7M697.6,431.4h7" fill="none"/>
<circle cx="701.1" cy="430.4" r="3.5" stroke="none"/>
<path d="M707.6,432.8V434.8M704.1,432.8h7M704.1,434.8h7" fill="none"/>
<circle cx="707.6" cy="433.8" r="3.5" stroke="none"/>
<path d="M714.0,436.2V438.2M710.5,436.2h7M710.5,438.2h7" fill="none"/>
<circle cx="714.0" cy="437.2" r="3.5" stroke="none"/>
<path d="M720.3,435.1V437.1M716.8,435.1h7M716.8,437.1h7" fill="none"/>
<circle cx="720.3" cy="436.1" r="3.5" stroke="none"/>
</g>
<g stroke="#000" stroke-width="1.5" fill="#000">
<path d="M141.3,400.7V450.5M137.5,400.7h7.6" fill="none"/>
<circle cx="141.3" cy="442.1" r="3.55" stroke="none"/>
<path d="M148.3,365.4V431.1M144.5,365.4h7.6M144.5,431.1h7.6" fill="none"/>
<circle cx="148.3" cy="398.1" r="3.55" stroke="none"/>
<path d="M156.3,368.6V405.3M152.5,368.6h7.6M152.5,405.3h7.6" fill="none"/>
<circle cx="156.3" cy="386.7" r="3.55" stroke="none"/>
<path d="M166.9,389.6V412.6M163.1,389.6h7.6M163.1,412.6h7.6" fill="none"/>
<circle cx="166.9" cy="401.1" r="3.55" stroke="none"/>
<path d="M176.7,392.9V411.9M172.9,392.9h7.6M172.9,411.9h7.6" fill="none"/>
<circle cx="176.7" cy="402.4" r="3.55" stroke="none"/>
<path d="M186.1,391.7V406.7M182.3,391.7h7.6M182.3,406.7h7.6" fill="none"/>
<circle cx="186.1" cy="398.9" r="3.55" stroke="none"/>
<path d="M195.4,395.3V409.0M191.6,395.3h7.6M191.6,409.0h7.6" fill="none"/>
<circle cx="195.4" cy="402.4" r="3.55" stroke="none"/>
<path d="M204.4,402.6V414.7M200.6,402.6h7.6M200.6,414.7h7.6" fill="none"/>
<circle cx="204.4" cy="408.9" r="3.55" stroke="none"/>
<path d="M214.0,388.3V398.9M210.2,388.3h7.6M210.2,398.9h7.6" fill="none"/>
<circle cx="214.0" cy="393.6" r="3.55" stroke="none"/>
<path d="M223.1,381.7V392.6M219.3,381.7h7.6M219.3,392.6h7.6" fill="none"/>
<circle cx="223.1" cy="386.9" r="3.55" stroke="none"/>
<path d="M232.9,363.1V372.9M229.1,363.1h7.6M229.1,372.9h7.6" fill="none"/>
<circle cx="232.9" cy="367.6" r="3.55" stroke="none"/>
<path d="M242.4,369.0V378.9M238.6,369.0h7.6M238.6,378.9h7.6" fill="none"/>
<circle cx="242.4" cy="373.9" r="3.55" stroke="none"/>
<path d="M251.3,356.9V366.9M247.5,356.9h7.6M247.5,366.9h7.6" fill="none"/>
<circle cx="251.3" cy="361.9" r="3.55" stroke="none"/>
<path d="M260.3,341.7V351.1M256.5,341.7h7.6M256.5,351.1h7.6" fill="none"/>
<circle cx="260.3" cy="346.1" r="3.55" stroke="none"/>
<path d="M270.0,332.1V341.9M266.2,332.1h7.6M266.2,341.9h7.6" fill="none"/>
<circle cx="270.0" cy="337.1" r="3.55" stroke="none"/>
<path d="M279.3,308.6V320.0M275.5,308.6h7.6M275.5,320.0h7.6" fill="none"/>
<circle cx="279.3" cy="314.3" r="3.55" stroke="none"/>
<path d="M288.6,292.6V304.0M284.8,292.6h7.6M284.8,304.0h7.6" fill="none"/>
<circle cx="288.6" cy="298.1" r="3.55" stroke="none"/>
<path d="M297.6,260.3V272.4M293.8,260.3h7.6M293.8,272.4h7.6" fill="none"/>
<circle cx="297.6" cy="266.1" r="3.55" stroke="none"/>
<path d="M307.1,241.0V253.1M303.3,241.0h7.6M303.3,253.1h7.6" fill="none"/>
<circle cx="307.1" cy="247.1" r="3.55" stroke="none"/>
<path d="M316.7,199.7V212.9M312.9,199.7h7.6M312.9,212.9h7.6" fill="none"/>
<circle cx="316.7" cy="206.1" r="3.55" stroke="none"/>
<path d="M326.2,179.7V190.7M322.4,179.7h7.6M322.4,190.7h7.6" fill="none"/>
<circle cx="326.2" cy="185.5" r="3.55" stroke="none"/>
<path d="M335.4,151.9V165.0M331.6,151.9h7.6M331.6,165.0h7.6" fill="none"/>
<circle cx="335.4" cy="158.6" r="3.55" stroke="none"/>
<path d="M345.3,125.3V138.6M341.5,125.3h7.6M341.5,138.6h7.6" fill="none"/>
<circle cx="345.3" cy="131.9" r="3.55" stroke="none"/>
<path d="M354.7,111.7V124.6M350.9,111.7h7.6M350.9,124.6h7.6" fill="none"/>
<circle cx="354.7" cy="118.1" r="3.55" stroke="none"/>
<path d="M364.3,109.0V121.4M360.5,109.0h7.6M360.5,121.4h7.6" fill="none"/>
<circle cx="364.3" cy="115.3" r="3.55" stroke="none"/>
<path d="M374.0,131.7V142.4M370.2,131.7h7.6M370.2,142.4h7.6" fill="none"/>
<circle cx="374.0" cy="136.9" r="3.55" stroke="none"/>
<path d="M384.3,161.4V170.0M380.5,161.4h7.6M380.5,170.0h7.6" fill="none"/>
<circle cx="384.3" cy="165.4" r="3.55" stroke="none"/>
<path d="M394.6,219.1V226.1M390.8,219.1h7.6M390.8,226.1h7.6" fill="none"/>
<circle cx="394.6" cy="222.6" r="3.55" stroke="none"/>
<path d="M405.2,271.0V277.0M401.4,271.0h7.6M401.4,277.0h7.6" fill="none"/>
<circle cx="405.2" cy="274.0" r="3.55" stroke="none"/>
<path d="M416.2,316.3V322.3M412.4,316.3h7.6M412.4,322.3h7.6" fill="none"/>
<circle cx="416.2" cy="319.3" r="3.55" stroke="none"/>
<path d="M427.9,345.1V349.1M424.1,345.1h7.6M424.1,349.1h7.6" fill="none"/>
<circle cx="427.9" cy="347.1" r="3.55" stroke="none"/>
<path d="M440.0,342.3V346.3M436.2,342.3h7.6M436.2,346.3h7.6" fill="none"/>
<circle cx="440.0" cy="344.3" r="3.55" stroke="none"/>
<path d="M452.9,314.7V318.7M449.1,314.7h7.6M449.1,318.7h7.6" fill="none"/>
<circle cx="452.9" cy="316.7" r="3.55" stroke="none"/>
<path d="M466.4,301.9V305.9M462.6,301.9h7.6M462.6,305.9h7.6" fill="none"/>
<circle cx="466.4" cy="303.9" r="3.55" stroke="none"/>
<path d="M479.6,305.2V309.6M475.8,305.2h7.6M475.8,309.6h7.6" fill="none"/>
<circle cx="479.6" cy="307.4" r="3.55" stroke="none"/>
<path d="M492.1,331.4V336.4M488.3,331.4h7.6M488.3,336.4h7.6" fill="none"/>
<circle cx="492.1" cy="333.9" r="3.55" stroke="none"/>
<path d="M504.7,347.1V352.1M500.9,347.1h7.6M500.9,352.1h7.6" fill="none"/>
<circle cx="504.7" cy="349.6" r="3.55" stroke="none"/>
<path d="M516.0,329.9V337.9M512.2,329.9h7.6M512.2,337.9h7.6" fill="none"/>
<circle cx="516.0" cy="333.9" r="3.55" stroke="none"/>
<path d="M527.6,307.9V317.4M523.8,307.9h7.6M523.8,317.4h7.6" fill="none"/>
<circle cx="527.6" cy="312.4" r="3.55" stroke="none"/>
<path d="M538.3,291.4V305.0M534.5,291.4h7.6M534.5,305.0h7.6" fill="none"/>
<circle cx="538.3" cy="297.9" r="3.55" stroke="none"/>
<path d="M548.6,317.6V334.0M544.8,317.6h7.6M544.8,334.0h7.6" fill="none"/>
<circle cx="548.6" cy="326.0" r="3.55" stroke="none"/>
<path d="M558.8,333.0V353.2M555.0,333.0h7.6M555.0,353.2h7.6" fill="none"/>
<circle cx="558.8" cy="343.0" r="3.55" stroke="none"/>
<path d="M568.4,362.4V389.2M564.6,362.4h7.6M564.6,389.2h7.6" fill="none"/>
<circle cx="568.4" cy="375.3" r="3.55" stroke="none"/>
<path d="M582.0,376.9V406.0M578.2,376.9h7.6M578.2,406.0h7.6" fill="none"/>
<circle cx="582.0" cy="391.0" r="3.55" stroke="none"/>
<path d="M599.7,361.3V412.5M595.9,361.3h7.6M595.9,412.5h7.6" fill="none"/>
<circle cx="599.7" cy="386.0" r="3.55" stroke="none"/>
</g>
<path d="M140.0,385.0 L141.0,385.9 L142.0,386.7 L143.0,387.6 L144.0,388.4 L145.0,389.2 L146.0,390.0 L147.0,390.8 L148.0,391.5 L149.0,392.3 L150.0,393.0 L151.0,393.7 L152.0,394.4 L153.0,395.0 L154.0,395.7 L155.0,396.3 L156.0,396.9 L157.0,397.4 L158.0,398.0 L159.0,398.5 L160.0,399.0 L161.0,399.5 L162.0,399.9 L163.0,400.3 L164.0,400.7 L165.0,401.1 L166.0,401.4 L167.0,401.7 L168.0,402.0 L169.0,402.3 L170.0,402.5 L171.0,402.7 L172.0,402.9 L173.0,403.0 L174.0,403.1 L175.0,403.2 L176.0,403.3 L177.0,403.3 L178.0,403.3 L179.0,403.3 L180.0,403.3 L181.0,403.3 L182.0,403.2 L183.0,403.1 L184.0,403.0 L185.0,402.9 L186.0,402.7 L187.0,402.6 L188.0,402.4 L189.0,402.2 L190.0,402.0 L191.0,401.8 L192.0,401.6 L193.0,401.3 L194.0,401.0 L195.0,400.8 L196.0,400.4 L197.0,400.1 L198.0,399.8 L199.0,399.4 L200.0,399.0 L201.0,398.6 L202.0,398.1 L203.0,397.7 L204.0,397.2 L205.0,396.7 L206.0,396.3 L207.0,395.8 L208.0,395.3 L209.0,394.9 L210.0,394.4 L211.0,394.0 L212.0,393.5 L213.0,393.0 L214.0,392.5 L215.0,392.0 L216.0,391.5 L217.0,390.9 L218.0,390.3 L219.0,389.7 L220.0,389.1 L221.0,388.4 L222.0,387.8 L223.0,387.1 L224.0,386.4 L225.0,385.6 L226.0,384.9 L227.0,384.1 L228.0,383.4 L229.0,382.6 L230.0,381.8 L231.0,381.0 L232.0,380.1 L233.0,379.3 L234.0,378.4 L235.0,377.5 L236.0,376.7 L237.0,375.8 L238.0,374.8 L239.0,373.9 L240.0,373.0 L241.0,372.1 L242.0,371.1 L243.0,370.1 L244.0,369.2 L245.0,368.2 L246.0,367.1 L247.0,366.1 L248.0,365.0 L249.0,363.8 L250.0,362.7 L251.0,361.5 L252.0,360.2 L253.0,359.0 L254.0,357.7 L255.0,356.4 L256.0,355.0 L257.0,353.6 L258.0,352.2 L259.0,350.8 L260.0,349.3 L261.0,347.8 L262.0,346.4 L263.0,344.8 L264.0,343.3 L265.0,341.8 L266.0,340.2 L267.0,338.6 L268.0,337.0 L269.0,335.3 L270.0,333.6 L271.0,331.8 L272.0,330.0 L273.0,328.1 L274.0,326.3 L275.0,324.4 L276.0,322.4 L277.0,320.5 L278.0,318.4 L279.0,316.3 L280.0,314.0 L281.0,311.6 L282.0,309.2 L283.0,306.6 L284.0,304.0 L285.0,301.3 L286.0,298.6 L287.0,296.0 L288.0,293.3 L289.0,290.7 L290.0,288.1 L291.0,285.5 L292.0,283.0 L293.0,280.5 L294.0,278.1 L295.0,275.6 L296.0,273.0 L297.0,270.3 L298.0,267.4 L299.0,264.4 L300.0,261.3 L301.0,258.1 L302.0,255.0 L303.0,251.9 L304.0,248.8 L305.0,245.8 L306.0,242.7 L307.0,239.6 L308.0,236.5 L309.0,233.3 L310.0,230.1 L311.0,227.0 L312.0,224.0 L313.0,221.1 L314.0,218.1 L315.0,215.1 L316.0,211.9 L317.0,208.7 L318.0,205.3 L319.0,202.0 L320.0,198.8 L321.0,195.6 L322.0,192.6 L323.0,189.7 L324.0,187.0 L325.0,184.3 L326.0,181.6 L327.0,178.9 L328.0,176.0 L329.0,173.0 L330.0,170.0 L331.0,167.0 L332.0,164.0 L333.0,161.1 L334.0,158.3 L335.0,155.6 L336.0,152.9 L337.0,150.3 L338.0,147.6 L339.0,145.0 L340.0,142.3 L341.0,139.7 L342.0,137.0 L343.0,134.5 L344.0,132.1 L345.0,129.9 L346.0,127.9 L347.0,126.2 L348.0,124.5 L349.0,122.9 L350.0,121.5 L351.0,120.2 L352.0,119.0 L353.0,118.0 L354.0,117.2 L355.0,116.5 L356.0,116.0 L357.0,115.6 L358.0,115.3 L359.0,115.1 L360.0,115.0 L361.0,115.0 L362.0,115.2 L363.0,115.6 L364.0,116.2 L365.0,117.0 L366.0,118.2 L367.0,119.6 L368.0,121.5 L369.0,123.7 L370.0,126.2 L371.0,128.9 L372.0,131.7 L373.0,134.4 L374.0,137.2 L375.0,140.1 L376.0,142.9 L377.0,145.9 L378.0,148.9 L379.0,152.2 L380.0,155.7 L381.0,159.5 L382.0,163.5 L383.0,167.5 L384.0,171.5 L385.0,175.4 L386.0,179.4 L387.0,183.8 L388.0,188.8 L389.0,194.2 L390.0,200.0 L391.0,206.0 L392.0,212.1 L393.0,218.1 L394.0,224.0 L395.0,229.6 L396.0,234.9 L397.0,240.0 L398.0,245.0 L399.0,250.0 L400.0,255.0 L401.0,260.0 L402.0,264.9 L403.0,269.7 L404.0,274.3 L405.0,278.8 L406.0,283.1 L407.0,287.2 L408.0,291.2 L409.0,295.1 L410.0,299.0 L411.0,302.8 L412.0,306.6 L413.0,310.4 L414.0,314.0 L415.0,317.5 L416.0,320.8 L417.0,324.0 L418.0,326.9 L419.0,329.7 L420.0,332.3 L421.0,334.7 L422.0,337.0 L423.0,339.2 L424.0,341.3 L425.0,343.2 L426.0,345.0 L427.0,346.5 L428.0,347.8 L429.0,348.9 L430.0,349.7 L431.0,350.3 L432.0,350.7 L433.0,350.8 L434.0,350.7 L435.0,350.4 L436.0,349.8 L437.0,349.0 L438.0,347.9 L439.0,346.6 L440.0,345.1 L441.0,343.4 L442.0,341.5 L443.0,339.5 L444.0,337.4 L445.0,335.2 L446.0,333.0 L447.0,330.7 L448.0,328.4 L449.0,326.2 L450.0,324.0 L451.0,321.9 L452.0,319.9 L453.0,318.0 L454.0,316.2 L455.0,314.5 L456.0,313.0 L457.0,311.6 L458.0,310.3 L459.0,309.1 L460.0,308.0 L461.0,307.0 L462.0,306.1 L463.0,305.2 L464.0,304.5 L465.0,303.8 L466.0,303.2 L467.0,302.8 L468.0,302.4 L469.0,302.2 L470.0,302.1 L471.0,302.1 L472.0,302.3 L473.0,302.6 L474.0,303.0 L475.0,303.5 L476.0,304.1 L477.0,304.9 L478.0,305.9 L479.0,307.1 L480.0,308.5 L481.0,310.2 L482.0,312.0 L483.0,314.1 L484.0,316.2 L485.0,318.4 L486.0,320.7 L487.0,322.8 L488.0,325.0 L489.0,327.1 L490.0,329.2 L491.0,331.3 L492.0,333.3 L493.0,335.3 L494.0,337.3 L495.0,339.2 L496.0,341.0 L497.0,342.7 L498.0,344.3 L499.0,345.8 L500.0,347.1 L501.0,348.3 L502.0,349.3 L503.0,350.1 L504.0,350.6 L505.0,350.9 L506.0,350.8 L507.0,350.4 L508.0,349.6 L509.0,348.3 L510.0,346.6 L511.0,344.6 L512.0,342.4 L513.0,340.1 L514.0,337.8 L515.0,335.6 L516.0,333.5 L517.0,331.5 L518.0,329.5 L519.0,327.5 L520.0,325.5 L521.0,323.6 L522.0,321.7 L523.0,319.8 L524.0,318.0 L525.0,316.3 L526.0,314.8 L527.0,313.3 L528.0,312.0 L529.0,310.8 L530.0,309.8 L531.0,308.8 L532.0,308.0 L533.0,307.3 L534.0,306.6 L535.0,306.1 L536.0,305.7 L537.0,305.5 L538.0,305.4 L539.0,305.6 L540.0,306.0 L541.0,306.8 L542.0,307.9 L543.0,309.3 L544.0,311.0 L545.0,312.9 L546.0,315.1 L547.0,317.8 L548.0,321.0 L549.0,324.8 L550.0,328.8 L551.0,332.8 L552.0,336.4 L553.0,339.6 L554.0,342.4 L555.0,345.2 L556.0,348.0 L557.0,351.0 L558.0,354.2 L559.0,357.5 L560.0,361.0 L561.0,364.6 L562.0,368.2 L563.0,371.7 L564.0,375.0 L565.0,378.0 L566.0,380.7 L567.0,383.1 L568.0,385.1 L569.0,386.8 L570.0,388.2 L571.0,389.3 L572.0,390.1 L573.0,390.6 L574.0,390.9 L575.0,391.0 L576.0,390.9 L577.0,390.7 L578.0,390.4 L579.0,390.0 L580.0,389.6 L581.0,389.1 L582.0,388.6 L583.0,388.0 L584.0,387.3 L585.0,386.5 L586.0,385.6 L587.0,384.8 L588.0,383.9 L589.0,383.1 L590.0,382.4 L591.0,381.7 L592.0,381.2 L593.0,380.9 L594.0,380.6 L595.0,380.6 L596.0,380.6 L597.0,380.9 L598.0,381.2 L599.0,381.7 L600.0,382.3 L601.0,383.0 L602.0,384.0 L603.0,385.2 L604.0,386.6 L605.0,388.1 L606.0,389.8 L607.0,391.5 L608.0,393.2 L609.0,394.9 L610.0,396.5 L611.0,397.9 L612.0,399.3 L613.0,400.6 L614.0,401.7 L615.0,402.8 L616.0,403.8 L617.0,404.7 L618.0,405.5 L619.0,406.3 L620.0,407.1 L621.0,407.7 L622.0,408.3 L623.0,408.8 L624.0,409.2 L625.0,409.5 L626.0,409.7 L627.0,409.8 L628.0,409.7 L629.0,409.5 L630.0,409.3 L631.0,409.0 L632.0,408.7 L633.0,408.3 L634.0,407.9 L635.0,407.4 L636.0,406.9 L637.0,406.4 L638.0,406.0 L639.0,405.6 L640.0,405.3 L641.0,405.1 L642.0,404.9 L643.0,404.9 L644.0,405.0 L645.0,405.1 L646.0,405.4 L647.0,405.8 L648.0,406.4 L649.0,407.0 L650.0,407.7 L651.0,408.5 L652.0,409.3 L653.0,410.2 L654.0,411.1 L655.0,412.0 L656.0,413.0 L657.0,414.0 L658.0,415.0 L659.0,416.0 L660.0,417.1 L661.0,418.1 L662.0,419.2 L663.0,420.2 L664.0,421.2 L665.0,422.2 L666.0,423.1 L667.0,423.9 L668.0,424.7 L669.0,425.4 L670.0,426.1 L671.0,426.7 L672.0,427.2 L673.0,427.7 L674.0,428.1 L675.0,428.4 L676.0,428.8 L677.0,429.0 L678.0,429.2 L679.0,429.4 L680.0,429.5 L681.0,429.6 L682.0,429.6 L683.0,429.6 L684.0,429.5 L685.0,429.5 L686.0,429.4 L687.0,429.3 L688.0,429.2 L689.0,429.2 L690.0,429.2 L691.0,429.3 L692.0,429.4 L693.0,429.6 L694.0,429.8 L695.0,430.1 L696.0,430.4 L697.0,430.7 L698.0,431.1 L699.0,431.6 L700.0,432.0 L701.0,432.5 L702.0,433.0 L703.0,433.5 L704.0,434.1 L705.0,434.6 L706.0,435.0 L707.0,435.5 L708.0,436.0 L709.0,436.4 L710.0,436.8 L711.0,437.1 L712.0,437.4 L713.0,437.7 L714.0,438.0 L715.0,438.2 L716.0,438.4 L717.0,438.6 L718.0,438.7 L719.0,438.8 L720.0,438.8 L721.0,438.8 L722.0,438.7 L723.0,438.6 L723.2,438.6" fill="none" stroke="#1c7ad9" stroke-width="1.3" stroke-dasharray="6.25 5.5"/>
<path d="M141.3,393.6 L142.3,393.7 L143.3,393.8 L144.3,394.0 L145.3,394.3 L146.3,394.5 L147.3,394.9 L148.3,395.2 L149.3,395.6 L150.3,396.0 L151.3,396.4 L152.3,396.8 L153.3,397.2 L154.3,397.6 L155.3,398.0 L156.3,398.5 L157.3,398.9 L158.3,399.3 L159.3,399.7 L160.3,400.1 L161.3,400.4 L162.3,400.8 L163.3,401.1 L164.3,401.4 L165.3,401.7 L166.3,402.0 L167.3,402.2 L168.3,402.5 L169.3,402.7 L170.3,402.9 L171.3,403.0 L172.3,403.2 L173.3,403.3 L174.3,403.3 L175.3,403.4 L176.3,403.4 L177.3,403.5 L178.3,403.5 L179.3,403.4 L180.3,403.4 L181.3,403.3 L182.3,403.2 L183.3,403.1 L184.3,403.0 L185.3,402.8 L186.3,402.7 L187.3,402.5 L188.3,402.3 L189.3,402.1 L190.3,401.9 L191.3,401.6 L192.3,401.4 L193.3,401.1 L194.3,400.8 L195.3,400.4 L196.3,400.0 L197.3,399.6 L198.3,399.2 L199.3,398.8 L200.3,398.3 L201.3,397.7 L202.3,397.2 L203.3,396.7 L204.3,396.2 L205.3,395.7 L206.3,395.2 L207.3,394.7 L208.3,394.2 L209.3,393.7 L210.3,393.2 L211.3,392.7 L212.3,392.1 L213.3,391.6 L214.3,391.0 L215.3,390.4 L216.3,389.7 L217.3,389.1 L218.3,388.4 L219.3,387.8 L220.3,387.1 L221.3,386.4 L222.3,385.6 L223.3,384.9 L224.3,384.1 L225.3,383.3 L226.3,382.5 L227.3,381.7 L228.3,380.9 L229.3,380.1 L230.3,379.2 L231.3,378.3 L232.3,377.5 L233.3,376.6 L234.3,375.7 L235.3,374.8 L236.3,373.8 L237.3,372.9 L238.3,372.0 L239.3,371.0 L240.3,370.1 L241.3,369.1 L242.3,368.1 L243.3,367.0 L244.3,366.0 L245.3,364.9 L246.3,363.7 L247.3,362.6 L248.3,361.4 L249.3,360.1 L250.3,358.9 L251.3,357.6 L252.3,356.2 L253.3,354.9 L254.3,353.5 L255.3,352.1 L256.3,350.6 L257.3,349.2 L258.3,347.7 L259.3,346.2 L260.3,344.7 L261.3,343.2 L262.3,341.7 L263.3,340.1 L264.3,338.5 L265.3,336.9 L266.3,335.2 L267.3,333.4 L268.3,331.7 L269.3,329.9 L270.3,328.0 L271.3,326.2 L272.3,324.3 L273.3,322.4 L274.3,320.4 L275.3,318.4 L276.3,316.3 L277.3,314.0 L278.3,311.7 L279.3,309.3 L280.3,306.8 L281.3,304.2 L282.3,301.7 L283.3,299.1 L284.3,296.5 L285.3,293.9 L286.3,291.3 L287.3,288.8 L288.3,286.3 L289.3,283.8 L290.3,281.3 L291.3,278.9 L292.3,276.5 L293.3,273.9 L294.3,271.3 L295.3,268.4 L296.3,265.4 L297.3,262.4 L298.3,259.3 L299.3,256.1 L300.3,253.1 L301.3,250.1 L302.3,247.1 L303.3,244.1 L304.3,241.1 L305.3,238.1 L306.3,235.0 L307.3,231.9 L308.3,228.8 L309.3,225.8 L310.3,222.9 L311.3,220.0 L312.3,217.1 L313.3,214.1 L314.3,211.0 L315.3,207.7 L316.3,204.4 L317.3,201.1 L318.3,198.0 L319.3,194.9 L320.3,191.9 L321.3,189.1 L322.3,186.4 L323.3,183.7 L324.3,181.0 L325.3,178.3 L326.3,175.4 L327.3,172.4 L328.3,169.4 L329.3,166.4 L330.3,163.4 L331.3,160.5 L332.3,157.8 L333.3,155.0 L334.3,152.3 L335.3,149.7 L336.3,147.0 L337.3,144.3 L338.3,141.6 L339.3,138.8 L340.3,136.0 L341.3,133.3 L342.3,130.8 L343.3,128.4 L344.3,126.2 L345.3,124.1 L346.3,122.2 L347.3,120.4 L348.3,118.7 L349.3,117.2 L350.3,115.9 L351.3,114.8 L352.3,114.0 L353.3,113.4 L354.3,113.0 L355.3,112.7 L356.3,112.7 L357.3,112.7 L358.3,112.9 L359.3,113.1 L360.3,113.5 L361.3,114.0 L362.3,114.6 L363.3,115.4 L364.3,116.3 L365.3,117.6 L366.3,119.1 L367.3,121.0 L368.3,123.2 L369.3,125.7 L370.3,128.4 L371.3,131.1 L372.3,133.9 L373.3,136.7 L374.3,139.6 L375.3,142.5 L376.3,145.4 L377.3,148.5 L378.3,151.7 L379.3,155.3 L380.3,159.1 L381.3,163.2 L382.3,167.3 L383.3,171.3 L384.3,175.4 L385.3,179.6 L386.3,184.2 L387.3,189.5 L388.3,195.3 L389.3,201.5 L390.3,208.0 L391.3,214.5 L392.3,220.9 L393.3,227.1 L394.3,233.0 L395.3,238.6 L396.3,244.0 L397.3,249.3 L398.3,254.6 L399.3,259.8 L400.3,265.0 L401.3,270.0 L402.3,274.8 L403.3,279.4 L404.3,283.7 L405.3,287.9 L406.3,292.0 L407.3,296.0 L408.3,299.9 L409.3,303.7 L410.3,307.6 L411.3,311.3 L412.3,314.9 L413.3,318.4 L414.3,321.7 L415.3,324.8 L416.3,327.7 L417.3,330.4 L418.3,333.0 L419.3,335.4 L420.3,337.7 L421.3,339.8 L422.3,341.9 L423.3,343.8 L424.3,345.4 L425.3,346.9 L426.3,348.1 L427.3,349.1 L428.3,349.9 L429.3,350.4 L430.3,350.7 L431.3,350.8 L432.3,350.7 L433.3,350.3 L434.3,349.6 L435.3,348.7 L436.3,347.5 L437.3,346.2 L438.3,344.6 L439.3,342.8 L440.3,340.9 L441.3,338.9 L442.3,336.7 L443.3,334.5 L444.3,332.3 L445.3,330.0 L446.3,327.8 L447.3,325.6 L448.3,323.4 L449.3,321.3 L450.3,319.3 L451.3,317.4 L452.3,315.7 L453.3,314.0 L454.3,312.5 L455.3,311.2 L456.3,309.9 L457.3,308.8 L458.3,307.7 L459.3,306.7 L460.3,305.8 L461.3,305.0 L462.3,304.3 L463.3,303.6 L464.3,303.1 L465.3,302.7 L466.3,302.3 L467.3,302.2 L468.3,302.1 L469.3,302.2 L470.3,302.4 L471.3,302.7 L472.3,303.1 L473.3,303.7 L474.3,304.4 L475.3,305.2 L476.3,306.2 L477.3,307.5 L478.3,309.0 L479.3,310.7 L480.3,312.6 L481.3,314.7 L482.3,316.9 L483.3,319.1 L484.3,321.3 L485.3,323.5 L486.3,325.6 L487.3,327.7 L488.3,329.8 L489.3,331.9 L490.3,333.9 L491.3,335.9 L492.3,337.9 L493.3,339.7 L494.3,341.5 L495.3,343.2 L496.3,344.8 L497.3,346.2 L498.3,347.5 L499.3,348.6 L500.3,349.5 L501.3,350.2 L502.3,350.7 L503.3,350.9 L504.3,350.7 L505.3,350.2 L506.3,349.2 L507.3,347.8 L508.3,346.0 L509.3,344.0 L510.3,341.7 L511.3,339.4 L512.3,337.1 L513.3,334.9 L514.3,332.9 L515.3,330.9 L516.3,328.9 L517.3,326.9 L518.3,324.9 L519.3,323.0 L520.3,321.0 L521.3,319.2 L522.3,317.3 L523.3,315.6 L524.3,313.9 L525.3,312.3 L526.3,310.8 L527.3,309.5 L528.3,308.2 L529.3,307.1 L530.3,306.1 L531.3,305.2 L532.3,304.5 L533.3,304.0 L534.3,303.7 L535.3,303.7 L536.3,303.8 L537.3,304.3 L538.3,305.1 L539.3,306.2 L540.3,307.6 L541.3,309.2 L542.3,311.1 L543.3,313.2 L544.3,315.5 L545.3,318.3 L546.3,321.6 L547.3,325.3 L548.3,329.3 L549.3,333.1 L550.3,336.6 L551.3,339.6 L552.3,342.3 L553.3,344.9 L554.3,347.5 L555.3,350.2 L556.3,353.0 L557.3,356.0 L558.3,359.1 L559.3,362.3 L560.3,365.6 L561.3,368.8 L562.3,372.0 L563.3,374.9 L564.3,377.7 L565.3,380.2 L566.3,382.5 L567.3,384.5 L568.3,386.2 L569.3,387.6 L570.3,388.8 L571.3,389.7 L572.3,390.3 L573.3,390.8 L574.3,391.0 L575.3,391.0 L576.3,390.9 L577.3,390.6 L578.3,390.3 L579.3,389.9 L580.3,389.4 L581.3,388.9 L582.3,388.4 L583.3,387.8 L584.3,387.0 L585.3,386.2 L586.3,385.4 L587.3,384.5 L588.3,383.7 L589.3,382.9 L590.3,382.2 L591.3,381.6 L592.3,381.1 L593.3,380.8 L594.3,380.6 L595.3,380.6 L596.3,380.7 L597.3,380.9 L598.3,381.3 L599.3,381.8 L600.3,382.5 L601.3,383.3 L602.3,384.3 L603.3,385.6 L604.3,387.0 L605.3,388.6 L606.3,390.3 L607.3,392.0 L608.3,393.7 L609.3,395.4 L610.3,396.9 L611.3,398.4 L612.3,399.7 L613.3,400.9 L614.3,402.0 L615.3,403.1 L616.3,404.0 L617.3,404.9 L618.3,405.8 L619.3,406.5 L620.3,407.3 L621.3,407.9 L622.3,408.5 L623.3,408.9 L624.3,409.3 L625.3,409.6 L626.3,409.8 L627.3,409.8 L628.3,409.7 L629.3,409.5 L630.3,409.2 L631.3,408.9 L632.3,408.6 L633.3,408.2 L634.3,407.7 L635.3,407.2 L636.3,406.8 L637.3,406.3 L638.3,405.9 L639.3,405.5 L640.3,405.2 L641.3,405.0 L642.3,404.9 L643.3,404.9 L644.3,405.0 L645.3,405.2 L646.3,405.5 L647.3,406.0 L648.3,406.6 L649.3,407.2 L650.3,408.0 L651.3,408.8 L652.3,409.6 L653.3,410.5 L654.3,411.4 L655.3,412.3 L656.3,413.3 L657.3,414.3 L658.3,415.3 L659.3,416.3 L660.3,417.4 L661.3,418.4 L662.3,419.5 L663.3,420.5 L664.3,421.5 L665.3,422.4 L666.3,423.3 L667.3,424.2 L668.3,424.9 L669.3,425.6 L670.3,426.2 L671.3,426.8 L672.3,427.3 L673.3,427.8 L674.3,428.2 L675.3,428.5 L676.3,428.8 L677.3,429.1 L678.3,429.3 L679.3,429.4 L680.3,429.5 L681.3,429.6 L682.3,429.6 L683.3,429.6 L684.3,429.5 L685.3,429.4 L686.3,429.4 L687.3,429.3 L688.3,429.2 L689.3,429.2 L690.3,429.2 L691.3,429.3 L692.3,429.4 L693.3,429.6 L694.3,429.9 L695.3,430.1 L696.3,430.5 L697.3,430.8 L698.3,431.3 L699.3,431.7 L700.3,432.2 L701.3,432.7 L702.3,433.2 L703.3,433.7 L704.3,434.2 L705.3,434.7 L706.3,435.2 L707.3,435.6 L708.3,436.1 L709.3,436.5 L710.3,436.9 L711.3,437.2 L712.3,437.5 L713.3,437.8 L714.3,438.1 L715.3,438.3 L716.3,438.5 L717.3,438.6 L718.3,438.7 L719.3,438.8 L720.3,438.8 L721.3,438.8 L722.3,438.7" fill="none" stroke="#1c7ad9" stroke-width="1.45"/>
<rect x="102.2" y="42.4" width="621.2" height="408.1" fill="none" stroke="#000" stroke-width="2.2"/>
<path d="M102.2,438.8h6.3M723.4,438.8h-6.3M102.2,427.2h6.3M723.4,427.2h-6.3M102.2,415.5h6.3M723.4,415.5h-6.3M102.2,403.9h6.3M723.4,403.9h-6.3M102.2,392.2h12.5M723.4,392.2h-12.5M102.2,380.5h6.3M723.4,380.5h-6.3M102.2,368.9h6.3M723.4,368.9h-6.3M102.2,357.2h6.3M723.4,357.2h-6.3M102.2,345.6h6.3M723.4,345.6h-6.3M102.2,333.9h12.5M723.4,333.9h-12.5M102.2,322.2h6.3M723.4,322.2h-6.3M102.2,310.6h6.3M723.4,310.6h-6.3M102.2,298.9h6.3M723.4,298.9h-6.3M102.2,287.3h6.3M723.4,287.3h-6.3M102.2,275.6h12.5M723.4,275.6h-12.5M102.2,263.9h6.3M723.4,263.9h-6.3M102.2,252.3h6.3M723.4,252.3h-6.3M102.2,240.6h6.3M723.4,240.6h-6.3M102.2,229.0h6.3M723.4,229.0h-6.3M102.2,217.3h12.5M723.4,217.3h-12.5M102.2,205.6h6.3M723.4,205.6h-6.3M102.2,194.0h6.3M723.4,194.0h-6.3M102.2,182.3h6.3M723.4,182.3h-6.3M102.2,170.7h6.3M723.4,170.7h-6.3M102.2,159.0h12.5M723.4,159.0h-12.5M102.2,147.3h6.3M723.4,147.3h-6.3M102.2,135.7h6.3M723.4,135.7h-6.3M102.2,124.0h6.3M723.4,124.0h-6.3M102.2,112.4h6.3M723.4,112.4h-6.3M102.2,100.7h12.5M723.4,100.7h-12.5M102.2,89.0h6.3M723.4,89.0h-6.3M102.2,77.4h6.3M723.4,77.4h-6.3M102.2,65.7h6.3M723.4,65.7h-6.3M102.2,54.1h6.3M723.4,54.1h-6.3M177.1,42.4v8M177.1,450.5v-8M289.8,42.4v8M289.8,450.5v-8M459.1,42.4v8M459.1,450.5v-8M573.1,42.4v8M573.1,450.5v-8M655.9,42.4v8M655.9,450.5v-8" fill="none" stroke="#000" stroke-width="2.2"/>
</g>
<g font-size="23.8" text-anchor="end">
<text x="90.1" y="455.3">0</text>
<text x="90.1" y="402.2">1000</text>
<text x="90.1" y="343.9">2000</text>
<text x="90.1" y="285.6">3000</text>
<text x="90.1" y="227.3">4000</text>
<text x="90.1" y="169.0">5000</text>
<text x="90.1" y="110.7">6000</text>
<text x="90.1" y="52.4">7000</text>
<text x="90.1" y="893.9">0</text>
<text x="90.1" y="840.8">1000</text>
<text x="90.1" y="782.5">2000</text>
<text x="90.1" y="724.2">3000</text>
<text x="90.1" y="665.9">4000</text>
<text x="90.1" y="607.6">5000</text>
<text x="90.1" y="549.3">6000</text>
<text x="90.1" y="491.0">7000</text>
</g>
<g font-size="23.8" text-anchor="middle">
<text x="177.1" y="917">10</text>
<text x="289.8" y="917">100</text>
<text x="459.1" y="917">500</text>
<text x="573.1" y="917">1000</text>
<text x="655.9" y="917">1500</text>
<text x="720.2" y="917">2000</text>
<text x="831.4" y="917">10</text>
<text x="944.1" y="917">100</text>
<text x="1113.4" y="917">500</text>
<text x="1227.4" y="917">1000</text>
<text x="1310.2" y="917">1500</text>
<text x="1374.5" y="917">2000</text>
</g>
<text x="281.0" y="951.5" font-size="29.5">Multipole moment <tspan class="it" dx="8.8" font-size="29.5">l</tspan></text>
<text x="934.4" y="951.5" font-size="29.5">Multipole moment <tspan class="it" dx="8.8" font-size="29.5">l</tspan></text>
<text transform="translate(24,353.5) rotate(-90)" font-size="29.5" x="0 9.1 18.5 27.1 45.0 61.3 70.9 89.3 99.1 108.6 125.8 144 149.3 160.5 177.1 197.1 207.8"><tspan class="it" font-size="29.5">l</tspan>(<tspan class="it" font-size="29.5">l</tspan><tspan dy="2">+</tspan><tspan dy="-2">1</tspan>)C<tspan class="it" font-size="21" dy="6">l</tspan><tspan dy="-6">/2</tspan><tspan class="sym" textLength="15.2" lengthAdjust="spacingAndGlyphs">π</tspan> (<tspan class="sym" textLength="14.5" lengthAdjust="spacingAndGlyphs">μ</tspan>K<tspan font-size="20" dy="-9">2</tspan><tspan dy="9">)</tspan></text>
<text transform="translate(24,792.1) rotate(-90)" font-size="29.5" x="0 9.1 18.5 27.1 45.0 61.3 70.9 89.3 99.1 108.6 125.8 144 149.3 160.5 177.1 197.1 207.8"><tspan class="it" font-size="29.5">l</tspan>(<tspan class="it" font-size="29.5">l</tspan><tspan dy="2">+</tspan><tspan dy="-2">1</tspan>)C<tspan class="it" font-size="21" dy="6">l</tspan><tspan dy="-6">/2</tspan><tspan class="sym" textLength="15.2" lengthAdjust="spacingAndGlyphs">π</tspan> (<tspan class="sym" textLength="14.5" lengthAdjust="spacingAndGlyphs">μ</tspan>K<tspan font-size="20" dy="-9">2</tspan><tspan dy="9">)</tspan></text>
<g font-size="26.8">
<text x="527.6" y="100.5">r<tspan font-size="18.5" dy="6.8">s</tspan><tspan dy="-6.8" dx="0.8">/</tspan><tspan dx="0.4">d</tspan><tspan font-size="18.5" dy="6.8" dx="0.5">A</tspan><tspan dy="-6.8"> adjusted</tspan></text>
</g>
<g font-size="26.8">
<text x="1177.6" y="100.5">r<tspan font-size="18.5" dy="6.8">s</tspan><tspan dy="-6.8" dx="0.8">/</tspan><tspan dx="0.4">d</tspan><tspan font-size="18.5" dy="6.8" dx="0.5">A</tspan><tspan dy="-6.8"> adjusted</tspan></text>
<text x="1177.6" y="133.5"><tspan class="ob" dx="1">z</tspan><tspan font-size="18.5" dy="6.8" dx="-0.6">eq</tspan><tspan dy="-6.8"> adjusted</tspan></text>
</g>
<g font-size="26.8">
<text x="527.6" y="539.1">r<tspan font-size="18.5" dy="6.8">s</tspan><tspan dy="-6.8" dx="0.8">/</tspan><tspan dx="0.4">d</tspan><tspan font-size="18.5" dy="6.8" dx="0.5">A</tspan><tspan dy="-6.8"> adjusted</tspan></text>
<text x="527.6" y="572.1"><tspan class="ob" dx="1">z</tspan><tspan font-size="18.5" dy="6.8" dx="-0.6">eq</tspan><tspan dy="-6.8"> adjusted</tspan></text>
<text x="527.6" y="605.1"><tspan class="sym" font-size="28" dx="-0.8" textLength="15" lengthAdjust="spacingAndGlyphs">π</tspan><tspan class="sym" font-size="19" dy="5.6" dx="1" textLength="8.6" lengthAdjust="spacingAndGlyphs">ν</tspan><tspan dy="-5.6"> adjusted</tspan></text>
</g>
<g font-size="26.8">
<text x="1177.6" y="539.1">r<tspan font-size="18.5" dy="6.8">s</tspan><tspan dy="-6.8" dx="0.8">/</tspan><tspan dx="0.4">d</tspan><tspan font-size="18.5" dy="6.8" dx="0.5">A</tspan><tspan dy="-6.8"> adjusted</tspan></text>
<text x="1177.6" y="572.1"><tspan class="ob" dx="1">z</tspan><tspan font-size="18.5" dy="6.8" dx="-0.6">eq</tspan><tspan dy="-6.8"> adjusted</tspan></text>
<text x="1177.6" y="605.1"><tspan class="sym" font-size="28" dx="-0.8" textLength="15" lengthAdjust="spacingAndGlyphs">π</tspan><tspan class="sym" font-size="19" dy="5.6" dx="1" textLength="8.6" lengthAdjust="spacingAndGlyphs">ν</tspan><tspan dy="-5.6"> adjusted</tspan></text>
<text x="1177.6" y="638.1">Y<tspan font-size="18.5" dy="6.8">p</tspan><tspan dy="-6.8"> adjusted</tspan></text>
</g>
</svg></body></html>
